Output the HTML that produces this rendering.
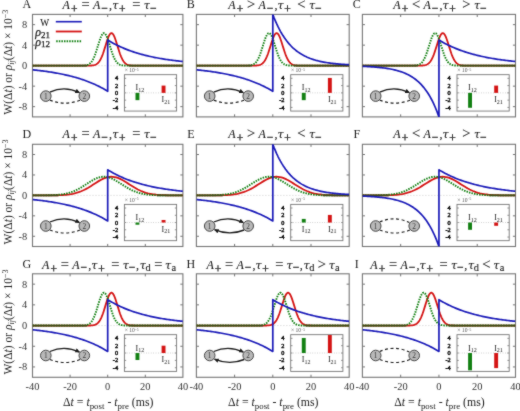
<!DOCTYPE html>
<html><head><meta charset="utf-8"><title>STDP figure</title><style>
html,body{margin:0;padding:0;background:#fff;}
svg{display:block;}
text{font-family:"Liberation Serif",serif;fill:#1a1a1a;}
.tk{font-size:10.4px;fill:#333;}
.ttl{font-size:12px;stroke:#1a1a1a;stroke-width:0.12px;}
.ts{font-size:10.4px;font-style:normal;}
.tau{font-family:'DejaVu Serif',serif;font-style:italic;font-size:11px;}
.ts2{font-size:11.5px;font-style:normal;stroke-width:0.35px;}
.rel{text-anchor:middle;font-size:14.5px;}
.pl{font-size:12px;text-anchor:middle;}
.itk{font-size:6.3px;text-anchor:end;fill:#111;stroke:#111;stroke-width:0.45px;}
.ix{font-size:5.6px;fill:#555;}
.il{font-size:8px;}
.nn{font-size:7.4px;text-anchor:middle;fill:#3a3a3a;}
.xl{font-size:12px;}
.yl{font-size:11.5px;}
.lg{font-size:8.4px;stroke:#1a1a1a;stroke-width:0.25px;}
</style></head>
<body><svg width="520" height="411" viewBox="0 0 520 411">
<defs><marker id="ah" viewBox="0 0 10 10" refX="9" refY="5" markerWidth="5" markerHeight="4.6" markerUnits="userSpaceOnUse" orient="auto"><path d="M0 0L10 5L0 10z" fill="#1a1a1a"/></marker></defs>
<filter id="bl" x="0" y="0" width="1" height="1" color-interpolation-filters="sRGB"><feConvolveMatrix order="3" kernelMatrix="1 2 1 2 20 2 1 2 1" edgeMode="duplicate"/></filter>
<g filter="url(#bl)"><rect width="520" height="411" fill="#fff"/>
<g>
<rect x="32.5" y="14.4" width="150.4" height="102.5" fill="none" stroke="#767676" stroke-width="1.1"/>
<path d="M70.1 116.9v-2.6M70.1 14.4v2.6M107.7 116.9v-2.6M107.7 14.4v2.6M145.3 116.9v-2.6M145.3 14.4v2.6M32.5 106.65h2.6M182.9 106.65h-2.6M32.5 86.15h2.6M182.9 86.15h-2.6M32.5 65.65h2.6M182.9 65.65h-2.6M32.5 45.15h2.6M182.9 45.15h-2.6M32.5 24.65h2.6M182.9 24.65h-2.6" stroke="#767676" stroke-width="1" fill="none"/>
<path d="M32.5 65.65H182.9" stroke="#c4c4c4" stroke-width="0.8" stroke-dasharray="1 2" fill="none"/>
<clipPath id="cp0"><rect x="32.5" y="14.4" width="150.4" height="102.5"/></clipPath>
<g clip-path="url(#cp0)" fill="none" stroke-linejoin="round">
<path d="M32.5 65.65 84.39 65.65 84.99 65.65 85.59 65.65 86.19 65.65 86.79 65.64 87.4 65.64 88 65.63 88.6 65.63 89.2 65.62 89.8 65.6 90.4 65.58 91.01 65.55 91.61 65.51 92.21 65.46 92.81 65.38 93.41 65.29 94.01 65.16 94.62 65 95.22 64.8 95.82 64.54 96.42 64.22 97.02 63.82 97.62 63.34 98.22 62.76 98.83 62.06 99.43 61.25 100.03 60.3 100.63 59.21 101.23 57.98 101.83 56.6 102.44 55.08 103.04 53.44 103.64 51.67 104.24 49.81 104.84 47.88 105.44 45.91 106.05 43.94 106.65 42.02 107.25 40.18 107.85 38.47 108.45 36.93 109.05 35.61 109.66 34.54 110.26 33.75 110.86 33.27 111.46 33.11 112.06 33.27 112.66 33.75 113.26 34.54 113.87 35.61 114.47 36.93 115.07 38.47 115.67 40.18 116.27 42.02 116.87 43.94 117.48 45.91 118.08 47.88 118.68 49.81 119.28 51.67 119.88 53.44 120.48 55.08 121.09 56.6 121.69 57.98 122.29 59.21 122.89 60.3 123.49 61.25 124.09 62.06 124.7 62.76 125.3 63.34 125.9 63.82 126.5 64.22 127.1 64.54 127.7 64.8 128.3 65 128.91 65.16 129.51 65.29 130.11 65.38 130.71 65.46 131.31 65.51 131.91 65.55 132.52 65.58 133.12 65.6 133.72 65.62 134.32 65.63 134.92 65.63 135.52 65.64 136.13 65.64 136.73 65.65 137.33 65.65 137.93 65.65 138.53 65.65 182.9 65.65" stroke="#d41414" stroke-width="1.8"/>
<path d="M32.5 65.65 76.87 65.65 77.47 65.65 78.07 65.65 78.67 65.65 79.27 65.64 79.88 65.64 80.48 65.63 81.08 65.63 81.68 65.62 82.28 65.6 82.88 65.58 83.49 65.55 84.09 65.51 84.69 65.46 85.29 65.38 85.89 65.29 86.49 65.16 87.1 65 87.7 64.8 88.3 64.54 88.9 64.22 89.5 63.82 90.1 63.34 90.7 62.76 91.31 62.06 91.91 61.25 92.51 60.3 93.11 59.21 93.71 57.98 94.31 56.6 94.92 55.08 95.52 53.44 96.12 51.67 96.72 49.81 97.32 47.88 97.92 45.91 98.53 43.94 99.13 42.02 99.73 40.18 100.33 38.47 100.93 36.93 101.53 35.61 102.14 34.54 102.74 33.75 103.34 33.27 103.94 33.11 104.54 33.27 105.14 33.75 105.74 34.54 106.35 35.61 106.95 36.93 107.55 38.47 108.15 40.18 108.75 42.02 109.35 43.94 109.96 45.91 110.56 47.88 111.16 49.81 111.76 51.67 112.36 53.44 112.96 55.08 113.57 56.6 114.17 57.98 114.77 59.21 115.37 60.3 115.97 61.25 116.57 62.06 117.18 62.76 117.78 63.34 118.38 63.82 118.98 64.22 119.58 64.54 120.18 64.8 120.78 65 121.39 65.16 121.99 65.29 122.59 65.38 123.19 65.46 123.79 65.51 124.39 65.55 125 65.58 125.6 65.6 126.2 65.62 126.8 65.63 127.4 65.63 128 65.64 128.61 65.64 129.21 65.65 129.81 65.65 130.41 65.65 131.01 65.65 182.9 65.65" stroke="#138013" stroke-width="1.9" stroke-dasharray="1.5 1.1"/>
<path d="M32.5 65.65H86.99M128.41 65.65H182.9" stroke="#3e4a14" stroke-width="1.8"/>
<path d="M32.5 69.81 33.75 69.94 35.01 70.07 36.26 70.21 37.51 70.35 38.77 70.49 40.02 70.64 41.27 70.79 42.53 70.95 43.78 71.11 45.03 71.28 46.29 71.46 47.54 71.63 48.79 71.82 50.05 72.01 51.3 72.2 52.55 72.4 53.81 72.61 55.06 72.83 56.31 73.05 57.57 73.28 58.82 73.51 60.07 73.75 61.33 74 62.58 74.26 63.83 74.52 65.09 74.8 66.34 75.08 67.59 75.37 68.85 75.67 70.1 75.97 71.35 76.29 72.61 76.62 73.86 76.96 75.11 77.3 76.37 77.66 77.62 78.03 78.87 78.41 80.13 78.81 81.38 79.21 82.63 79.63 83.89 80.06 85.14 80.5 86.39 80.96 87.65 81.43 88.9 81.92 90.15 82.42 91.41 82.93 92.66 83.46 93.91 84.01 95.17 84.58 96.42 85.16 97.67 85.76 98.93 86.38 100.18 87.01 101.43 87.67 102.69 88.35 103.94 89.05 105.19 89.77 106.45 90.51 107.7 91.27 107.7 40.02 108.95 40.79 110.21 41.53 111.46 42.25 112.71 42.95 113.97 43.63 115.22 44.29 116.47 44.92 117.73 45.54 118.98 46.14 120.23 46.72 121.49 47.29 122.74 47.84 123.99 48.37 125.25 48.88 126.5 49.38 127.75 49.87 129.01 50.34 130.26 50.8 131.51 51.24 132.77 51.67 134.02 52.09 135.27 52.49 136.53 52.89 137.78 53.27 139.03 53.64 140.29 54 141.54 54.34 142.79 54.68 144.05 55.01 145.3 55.33 146.55 55.63 147.81 55.93 149.06 56.22 150.31 56.5 151.57 56.78 152.82 57.04 154.07 57.3 155.33 57.55 156.58 57.79 157.83 58.02 159.09 58.25 160.34 58.47 161.59 58.69 162.85 58.9 164.1 59.1 165.35 59.29 166.61 59.48 167.86 59.67 169.11 59.84 170.37 60.02 171.62 60.19 172.87 60.35 174.13 60.51 175.38 60.66 176.63 60.81 177.89 60.95 179.14 61.09 180.39 61.23 181.65 61.36 182.9 61.49" stroke="#1a1ab8" stroke-width="1.7"/>
</g>
<rect x="124.4" y="74.67" width="52.2" height="36.39" fill="#fff" stroke="#767676" stroke-width="0.9"/>
<path d="M124.4 107.42h1.8M176.6 107.42h-1.8M124.4 100.14h1.8M176.6 100.14h-1.8M124.4 92.86h1.8M176.6 92.86h-1.8M124.4 85.59h1.8M176.6 85.59h-1.8M124.4 78.31h1.8M176.6 78.31h-1.8" stroke="#767676" stroke-width="0.8" fill="none"/>
<path d="M124.4 92.86H176.6" stroke="#b0b0b0" stroke-width="0.7" stroke-dasharray="0.8 1.6" fill="none"/>
<text x="118.1" y="109.52" class="itk">-4</text>
<text x="118.1" y="102.24" class="itk">-2</text>
<text x="118.1" y="94.96" class="itk">0</text>
<text x="118.1" y="87.69" class="itk">2</text>
<text x="118.1" y="80.41" class="itk">4</text>
<text x="124.7" y="72.07" class="ix">× 10<tspan dy="-1.3" font-size="3.6">−5</tspan></text>
<rect x="135.5" y="92.86" width="3.9" height="7.28" fill="#138013"/>
<text x="135.5" y="90.36" class="il">I<tspan dy="1.8" font-size="6">12</tspan></text>
<rect x="161.6" y="85.59" width="3.9" height="7.28" fill="#d41414"/>
<text x="161.6" y="101.86" class="il">I<tspan dy="1.8" font-size="6">21</tspan></text>
<path d="M49.8 92.1 Q64.65 85.5 79.5 92.7" stroke="#1a1a1a" stroke-width="1.35" fill="none" marker-end="url(#ah)"/>
<path d="M49.8 100.1 Q65.05 106.1 80.3 100.1" stroke="#1a1a1a" stroke-width="1.15" fill="none" stroke-dasharray="3 2.6"/>
<circle cx="45.8" cy="96.1" r="5.3" fill="#b8b8b8" stroke="#484848" stroke-width="1"/>
<text x="45.8" y="98.6" class="nn">1</text>
<circle cx="84.3" cy="96.1" r="5.3" fill="#b8b8b8" stroke="#484848" stroke-width="1"/>
<text x="84.3" y="98.6" class="nn">2</text>
<text x="26.9" y="8.1" class="pl">A</text>
<text class="ttl"><tspan x="62.5" y="8.8" font-style="italic">A</tspan><tspan x="71" y="12.8" class="ts2">+</tspan><tspan x="85.5" y="8.8" class="rel">=</tspan><tspan x="93" y="8.8" font-style="italic">A</tspan><tspan x="101.3" y="11.6" class="ts2">−</tspan><tspan x="109.1" y="8.8">,</tspan><tspan x="112.2" y="8.8" class="tau">τ</tspan><tspan x="119.1" y="12.8" class="ts2">+</tspan><tspan x="136.3" y="8.8" class="rel">=</tspan><tspan x="143.8" y="8.8" class="tau">τ</tspan><tspan x="149.9" y="11.6" class="ts2">−</tspan></text>
<text x="27.1" y="110.15" class="tk" text-anchor="end">-8</text>
<text x="27.1" y="89.65" class="tk" text-anchor="end">-4</text>
<text x="27.1" y="69.15" class="tk" text-anchor="end">0</text>
<text x="27.1" y="48.65" class="tk" text-anchor="end">4</text>
<text x="27.1" y="28.15" class="tk" text-anchor="end">8</text>
<text transform="translate(12.0 62.15) rotate(-90)" class="yl" text-anchor="middle">W(Δ<tspan font-style="italic">t</tspan>) or <tspan font-style="italic">ρ</tspan><tspan font-size="8" font-style="italic" dy="2">ij</tspan><tspan dy="-2">(Δ</tspan><tspan font-style="italic">t</tspan>) × 10<tspan font-size="8" dy="-4.5">−3</tspan></text>
<text x="49" y="25.6" class="lg" text-anchor="end" style="font-size:9.4px;stroke-width:0.1px">W</text>
<text x="35.2" y="36.2" class="lg"><tspan font-style="italic" font-size="12">ρ</tspan><tspan font-size="9" dy="1.3">21</tspan></text>
<text x="35.2" y="45.8" class="lg"><tspan font-style="italic" font-size="12">ρ</tspan><tspan font-size="9" dy="1.3">12</tspan></text>
<path d="M55.8 21.7H81.8" stroke="#1a1ab8" stroke-width="1.6"/>
<path d="M55.8 31.5H81.8" stroke="#d41414" stroke-width="1.8"/>
<path d="M56.2 41.2H81.8" stroke="#138013" stroke-width="1.9" stroke-dasharray="1.5 1.1"/>
</g>
<g>
<rect x="196.4" y="14.4" width="152.8" height="102.5" fill="none" stroke="#767676" stroke-width="1.1"/>
<path d="M234.6 116.9v-2.6M234.6 14.4v2.6M272.8 116.9v-2.6M272.8 14.4v2.6M311 116.9v-2.6M311 14.4v2.6M196.4 106.65h2.6M349.2 106.65h-2.6M196.4 86.15h2.6M349.2 86.15h-2.6M196.4 65.65h2.6M349.2 65.65h-2.6M196.4 45.15h2.6M349.2 45.15h-2.6M196.4 24.65h2.6M349.2 24.65h-2.6" stroke="#767676" stroke-width="1" fill="none"/>
<path d="M196.4 65.65H349.2" stroke="#c4c4c4" stroke-width="0.8" stroke-dasharray="1 2" fill="none"/>
<clipPath id="cp1"><rect x="196.4" y="14.4" width="152.8" height="102.5"/></clipPath>
<g clip-path="url(#cp1)" fill="none" stroke-linejoin="round">
<path d="M196.4 65.65 249.12 65.65 249.73 65.65 250.34 65.65 250.95 65.65 251.56 65.64 252.17 65.64 252.78 65.63 253.39 65.63 254.01 65.62 254.62 65.6 255.23 65.58 255.84 65.55 256.45 65.51 257.06 65.46 257.67 65.38 258.28 65.29 258.9 65.16 259.51 65 260.12 64.8 260.73 64.54 261.34 64.22 261.95 63.82 262.56 63.34 263.17 62.76 263.78 62.06 264.4 61.25 265.01 60.3 265.62 59.21 266.23 57.98 266.84 56.6 267.45 55.08 268.06 53.44 268.67 51.67 269.29 49.81 269.9 47.88 270.51 45.91 271.12 43.94 271.73 42.02 272.34 40.18 272.95 38.47 273.56 36.93 274.18 35.61 274.79 34.54 275.4 33.75 276.01 33.27 276.62 33.11 277.23 33.27 277.84 33.75 278.45 34.54 279.06 35.61 279.68 36.93 280.29 38.47 280.9 40.18 281.51 42.02 282.12 43.94 282.73 45.91 283.34 47.88 283.95 49.81 284.57 51.67 285.18 53.44 285.79 55.08 286.4 56.6 287.01 57.98 287.62 59.21 288.23 60.3 288.84 61.25 289.46 62.06 290.07 62.76 290.68 63.34 291.29 63.82 291.9 64.22 292.51 64.54 293.12 64.8 293.73 65 294.34 65.16 294.96 65.29 295.57 65.38 296.18 65.46 296.79 65.51 297.4 65.55 298.01 65.58 298.62 65.6 299.23 65.62 299.85 65.63 300.46 65.63 301.07 65.64 301.68 65.64 302.29 65.65 302.9 65.65 303.51 65.65 304.12 65.65 349.2 65.65" stroke="#d41414" stroke-width="1.8"/>
<path d="M196.4 65.65 241.48 65.65 242.09 65.65 242.7 65.65 243.31 65.65 243.92 65.64 244.53 65.64 245.14 65.63 245.75 65.63 246.37 65.62 246.98 65.6 247.59 65.58 248.2 65.55 248.81 65.51 249.42 65.46 250.03 65.38 250.64 65.29 251.26 65.16 251.87 65 252.48 64.8 253.09 64.54 253.7 64.22 254.31 63.82 254.92 63.34 255.53 62.76 256.14 62.06 256.76 61.25 257.37 60.3 257.98 59.21 258.59 57.98 259.2 56.6 259.81 55.08 260.42 53.44 261.03 51.67 261.65 49.81 262.26 47.88 262.87 45.91 263.48 43.94 264.09 42.02 264.7 40.18 265.31 38.47 265.92 36.93 266.54 35.61 267.15 34.54 267.76 33.75 268.37 33.27 268.98 33.11 269.59 33.27 270.2 33.75 270.81 34.54 271.42 35.61 272.04 36.93 272.65 38.47 273.26 40.18 273.87 42.02 274.48 43.94 275.09 45.91 275.7 47.88 276.31 49.81 276.93 51.67 277.54 53.44 278.15 55.08 278.76 56.6 279.37 57.98 279.98 59.21 280.59 60.3 281.2 61.25 281.82 62.06 282.43 62.76 283.04 63.34 283.65 63.82 284.26 64.22 284.87 64.54 285.48 64.8 286.09 65 286.7 65.16 287.32 65.29 287.93 65.38 288.54 65.46 289.15 65.51 289.76 65.55 290.37 65.58 290.98 65.6 291.59 65.62 292.21 65.63 292.82 65.63 293.43 65.64 294.04 65.64 294.65 65.65 295.26 65.65 295.87 65.65 296.48 65.65 349.2 65.65" stroke="#138013" stroke-width="1.9" stroke-dasharray="1.5 1.1"/>
<path d="M196.4 65.65H251.76M293.84 65.65H349.2" stroke="#3e4a14" stroke-width="1.8"/>
<path d="M196.4 69.81 197.67 69.94 198.95 70.07 200.22 70.21 201.49 70.35 202.77 70.49 204.04 70.64 205.31 70.79 206.59 70.95 207.86 71.11 209.13 71.28 210.41 71.46 211.68 71.63 212.95 71.82 214.23 72.01 215.5 72.2 216.77 72.4 218.05 72.61 219.32 72.83 220.59 73.05 221.87 73.28 223.14 73.51 224.41 73.75 225.69 74 226.96 74.26 228.23 74.52 229.51 74.8 230.78 75.08 232.05 75.37 233.33 75.67 234.6 75.97 235.87 76.29 237.15 76.62 238.42 76.96 239.69 77.3 240.97 77.66 242.24 78.03 243.51 78.41 244.79 78.81 246.06 79.21 247.33 79.63 248.61 80.06 249.88 80.5 251.15 80.96 252.43 81.43 253.7 81.92 254.97 82.42 256.25 82.93 257.52 83.46 258.79 84.01 260.07 84.58 261.34 85.16 262.61 85.76 263.89 86.38 265.16 87.01 266.43 87.67 267.71 88.35 268.98 89.05 270.25 89.77 271.53 90.51 272.8 91.27 272.8 14.4 274.07 17.71 275.35 20.8 276.62 23.69 277.89 26.4 279.17 28.93 280.44 31.3 281.71 33.51 282.99 35.58 284.26 37.52 285.53 39.34 286.81 41.03 288.08 42.62 289.35 44.11 290.63 45.5 291.9 46.8 293.17 48.01 294.45 49.15 295.72 50.21 296.99 51.21 298.27 52.14 299.54 53.01 300.81 53.83 302.09 54.59 303.36 55.3 304.63 55.97 305.91 56.59 307.18 57.18 308.45 57.72 309.73 58.24 311 58.71 312.27 59.16 313.55 59.58 314.82 59.97 316.09 60.34 317.37 60.68 318.64 61 319.91 61.3 321.19 61.58 322.46 61.84 323.73 62.09 325.01 62.32 326.28 62.53 327.55 62.73 328.83 62.92 330.1 63.1 331.37 63.26 332.65 63.42 333.92 63.56 335.19 63.7 336.47 63.82 337.74 63.94 339.01 64.05 340.29 64.15 341.56 64.25 342.83 64.34 344.11 64.42 345.38 64.5 346.65 64.58 347.93 64.65 349.2 64.71" stroke="#1a1ab8" stroke-width="1.7"/>
</g>
<rect x="290.7" y="74.67" width="52.2" height="36.39" fill="#fff" stroke="#767676" stroke-width="0.9"/>
<path d="M290.7 107.42h1.8M342.9 107.42h-1.8M290.7 100.14h1.8M342.9 100.14h-1.8M290.7 92.86h1.8M342.9 92.86h-1.8M290.7 85.59h1.8M342.9 85.59h-1.8M290.7 78.31h1.8M342.9 78.31h-1.8" stroke="#767676" stroke-width="0.8" fill="none"/>
<path d="M290.7 92.86H342.9" stroke="#b0b0b0" stroke-width="0.7" stroke-dasharray="0.8 1.6" fill="none"/>
<text x="284.4" y="109.52" class="itk">-4</text>
<text x="284.4" y="102.24" class="itk">-2</text>
<text x="284.4" y="94.96" class="itk">0</text>
<text x="284.4" y="87.69" class="itk">2</text>
<text x="284.4" y="80.41" class="itk">4</text>
<text x="291" y="72.07" class="ix">× 10<tspan dy="-1.3" font-size="3.6">−5</tspan></text>
<rect x="301.8" y="92.86" width="3.9" height="7.28" fill="#138013"/>
<text x="301.8" y="90.36" class="il">I<tspan dy="1.8" font-size="6">12</tspan></text>
<rect x="327.9" y="77.94" width="3.9" height="14.92" fill="#d41414"/>
<text x="327.9" y="101.86" class="il">I<tspan dy="1.8" font-size="6">21</tspan></text>
<path d="M213.7 92.1 Q228.55 85.5 243.4 92.7" stroke="#1a1a1a" stroke-width="1.35" fill="none" marker-end="url(#ah)"/>
<path d="M213.7 100.1 Q228.95 106.1 244.2 100.1" stroke="#1a1a1a" stroke-width="1.15" fill="none" stroke-dasharray="3 2.6"/>
<circle cx="209.7" cy="96.1" r="5.3" fill="#b8b8b8" stroke="#484848" stroke-width="1"/>
<text x="209.7" y="98.6" class="nn">1</text>
<circle cx="248.2" cy="96.1" r="5.3" fill="#b8b8b8" stroke="#484848" stroke-width="1"/>
<text x="248.2" y="98.6" class="nn">2</text>
<text x="190.8" y="8.1" class="pl">B</text>
<text class="ttl"><tspan x="228.2" y="8.8" font-style="italic">A</tspan><tspan x="236.63" y="12.8" class="ts2">+</tspan><tspan x="251.03" y="8.8" class="rel">&gt;</tspan><tspan x="258.47" y="8.8" font-style="italic">A</tspan><tspan x="266.7" y="11.6" class="ts2">−</tspan><tspan x="274.44" y="8.8">,</tspan><tspan x="277.52" y="8.8" class="tau">τ</tspan><tspan x="284.37" y="12.8" class="ts2">+</tspan><tspan x="301.44" y="8.8" class="rel">&lt;</tspan><tspan x="308.88" y="8.8" class="tau">τ</tspan><tspan x="314.93" y="11.6" class="ts2">−</tspan></text>
</g>
<g>
<rect x="362.4" y="14.4" width="153.1" height="102.5" fill="none" stroke="#767676" stroke-width="1.1"/>
<path d="M400.67 116.9v-2.6M400.67 14.4v2.6M438.95 116.9v-2.6M438.95 14.4v2.6M477.23 116.9v-2.6M477.23 14.4v2.6M362.4 106.65h2.6M515.5 106.65h-2.6M362.4 86.15h2.6M515.5 86.15h-2.6M362.4 65.65h2.6M515.5 65.65h-2.6M362.4 45.15h2.6M515.5 45.15h-2.6M362.4 24.65h2.6M515.5 24.65h-2.6" stroke="#767676" stroke-width="1" fill="none"/>
<path d="M362.4 65.65H515.5" stroke="#c4c4c4" stroke-width="0.8" stroke-dasharray="1 2" fill="none"/>
<clipPath id="cp2"><rect x="362.4" y="14.4" width="153.1" height="102.5"/></clipPath>
<g clip-path="url(#cp2)" fill="none" stroke-linejoin="round">
<path d="M362.4 65.65 415.22 65.65 415.83 65.65 416.44 65.65 417.06 65.65 417.67 65.64 418.28 65.64 418.89 65.63 419.51 65.63 420.12 65.62 420.73 65.6 421.34 65.58 421.96 65.55 422.57 65.51 423.18 65.46 423.79 65.38 424.41 65.29 425.02 65.16 425.63 65 426.24 64.8 426.86 64.54 427.47 64.22 428.08 63.82 428.69 63.34 429.3 62.76 429.92 62.06 430.53 61.25 431.14 60.3 431.75 59.21 432.37 57.98 432.98 56.6 433.59 55.08 434.2 53.44 434.82 51.67 435.43 49.81 436.04 47.88 436.65 45.91 437.27 43.94 437.88 42.02 438.49 40.18 439.1 38.47 439.72 36.93 440.33 35.61 440.94 34.54 441.55 33.75 442.17 33.27 442.78 33.11 443.39 33.27 444 33.75 444.61 34.54 445.23 35.61 445.84 36.93 446.45 38.47 447.06 40.18 447.68 42.02 448.29 43.94 448.9 45.91 449.51 47.88 450.13 49.81 450.74 51.67 451.35 53.44 451.96 55.08 452.58 56.6 453.19 57.98 453.8 59.21 454.41 60.3 455.03 61.25 455.64 62.06 456.25 62.76 456.86 63.34 457.48 63.82 458.09 64.22 458.7 64.54 459.31 64.8 459.92 65 460.54 65.16 461.15 65.29 461.76 65.38 462.37 65.46 462.99 65.51 463.6 65.55 464.21 65.58 464.82 65.6 465.44 65.62 466.05 65.63 466.66 65.63 467.27 65.64 467.89 65.64 468.5 65.65 469.11 65.65 469.72 65.65 470.34 65.65 515.5 65.65" stroke="#d41414" stroke-width="1.8"/>
<path d="M362.4 65.65 407.56 65.65 408.18 65.65 408.79 65.65 409.4 65.65 410.01 65.64 410.63 65.64 411.24 65.63 411.85 65.63 412.46 65.62 413.08 65.6 413.69 65.58 414.3 65.55 414.91 65.51 415.53 65.46 416.14 65.38 416.75 65.29 417.36 65.16 417.98 65 418.59 64.8 419.2 64.54 419.81 64.22 420.42 63.82 421.04 63.34 421.65 62.76 422.26 62.06 422.87 61.25 423.49 60.3 424.1 59.21 424.71 57.98 425.32 56.6 425.94 55.08 426.55 53.44 427.16 51.67 427.77 49.81 428.39 47.88 429 45.91 429.61 43.94 430.22 42.02 430.84 40.18 431.45 38.47 432.06 36.93 432.67 35.61 433.29 34.54 433.9 33.75 434.51 33.27 435.12 33.11 435.73 33.27 436.35 33.75 436.96 34.54 437.57 35.61 438.18 36.93 438.8 38.47 439.41 40.18 440.02 42.02 440.63 43.94 441.25 45.91 441.86 47.88 442.47 49.81 443.08 51.67 443.7 53.44 444.31 55.08 444.92 56.6 445.53 57.98 446.15 59.21 446.76 60.3 447.37 61.25 447.98 62.06 448.6 62.76 449.21 63.34 449.82 63.82 450.43 64.22 451.04 64.54 451.66 64.8 452.27 65 452.88 65.16 453.49 65.29 454.11 65.38 454.72 65.46 455.33 65.51 455.94 65.55 456.56 65.58 457.17 65.6 457.78 65.62 458.39 65.63 459.01 65.63 459.62 65.64 460.23 65.64 460.84 65.65 461.46 65.65 462.07 65.65 462.68 65.65 515.5 65.65" stroke="#138013" stroke-width="1.9" stroke-dasharray="1.5 1.1"/>
<path d="M362.4 65.65H417.87M460.03 65.65H515.5" stroke="#3e4a14" stroke-width="1.8"/>
<path d="M362.4 66.34 363.68 66.4 364.95 66.45 366.23 66.51 367.5 66.58 368.78 66.64 370.05 66.72 371.33 66.8 372.61 66.88 373.88 66.97 375.16 67.07 376.43 67.18 377.71 67.29 378.99 67.41 380.26 67.55 381.54 67.69 382.81 67.84 384.09 68 385.37 68.17 386.64 68.36 387.92 68.56 389.19 68.78 390.47 69.01 391.74 69.26 393.02 69.53 394.3 69.82 395.57 70.13 396.85 70.46 398.12 70.82 399.4 71.2 400.67 71.62 401.95 72.06 403.23 72.54 404.5 73.05 405.78 73.6 407.05 74.19 408.33 74.82 409.61 75.5 410.88 76.24 412.16 77.02 413.43 77.87 414.71 78.78 415.99 79.75 417.26 80.8 418.54 81.93 419.81 83.14 421.09 84.44 422.36 85.83 423.64 87.33 424.92 88.94 426.19 90.67 427.47 92.53 428.74 94.53 430.02 96.68 431.29 98.99 432.57 101.46 433.85 104.12 435.12 106.98 436.4 110.05 437.67 113.35 438.95 116.9 438.95 40.02 440.23 40.79 441.5 41.53 442.78 42.25 444.05 42.95 445.33 43.63 446.61 44.29 447.88 44.92 449.16 45.54 450.43 46.14 451.71 46.72 452.98 47.29 454.26 47.84 455.54 48.37 456.81 48.88 458.09 49.38 459.36 49.87 460.64 50.34 461.91 50.8 463.19 51.24 464.47 51.67 465.74 52.09 467.02 52.49 468.29 52.89 469.57 53.27 470.85 53.64 472.12 54 473.4 54.34 474.67 54.68 475.95 55.01 477.23 55.33 478.5 55.63 479.78 55.93 481.05 56.22 482.33 56.5 483.6 56.78 484.88 57.04 486.16 57.3 487.43 57.55 488.71 57.79 489.98 58.02 491.26 58.25 492.53 58.47 493.81 58.69 495.09 58.9 496.36 59.1 497.64 59.29 498.91 59.48 500.19 59.67 501.47 59.84 502.74 60.02 504.02 60.19 505.29 60.35 506.57 60.51 507.85 60.66 509.12 60.81 510.4 60.95 511.67 61.09 512.95 61.23 514.22 61.36 515.5 61.49" stroke="#1a1ab8" stroke-width="1.7"/>
</g>
<rect x="457" y="74.67" width="52.2" height="36.39" fill="#fff" stroke="#767676" stroke-width="0.9"/>
<path d="M457 107.42h1.8M509.2 107.42h-1.8M457 100.14h1.8M509.2 100.14h-1.8M457 92.86h1.8M509.2 92.86h-1.8M457 85.59h1.8M509.2 85.59h-1.8M457 78.31h1.8M509.2 78.31h-1.8" stroke="#767676" stroke-width="0.8" fill="none"/>
<path d="M457 92.86H509.2" stroke="#b0b0b0" stroke-width="0.7" stroke-dasharray="0.8 1.6" fill="none"/>
<text x="450.7" y="109.52" class="itk">-4</text>
<text x="450.7" y="102.24" class="itk">-2</text>
<text x="450.7" y="94.96" class="itk">0</text>
<text x="450.7" y="87.69" class="itk">2</text>
<text x="450.7" y="80.41" class="itk">4</text>
<text x="457.3" y="72.07" class="ix">× 10<tspan dy="-1.3" font-size="3.6">−5</tspan></text>
<rect x="468.1" y="92.86" width="3.9" height="14.92" fill="#138013"/>
<text x="468.1" y="90.36" class="il">I<tspan dy="1.8" font-size="6">12</tspan></text>
<rect x="494.2" y="85.59" width="3.9" height="7.28" fill="#d41414"/>
<text x="494.2" y="101.86" class="il">I<tspan dy="1.8" font-size="6">21</tspan></text>
<path d="M379.7 92.1 Q394.55 85.5 409.4 92.7" stroke="#1a1a1a" stroke-width="1.35" fill="none" marker-end="url(#ah)"/>
<path d="M379.7 100.1 Q394.95 106.1 410.2 100.1" stroke="#1a1a1a" stroke-width="1.15" fill="none" stroke-dasharray="3 2.6"/>
<circle cx="375.7" cy="96.1" r="5.3" fill="#b8b8b8" stroke="#484848" stroke-width="1"/>
<text x="375.7" y="98.6" class="nn">1</text>
<circle cx="414.2" cy="96.1" r="5.3" fill="#b8b8b8" stroke="#484848" stroke-width="1"/>
<text x="414.2" y="98.6" class="nn">2</text>
<text x="356.8" y="8.1" class="pl">C</text>
<text class="ttl"><tspan x="393.2" y="8.8" font-style="italic">A</tspan><tspan x="401.63" y="12.8" class="ts2">+</tspan><tspan x="416.03" y="8.8" class="rel">&lt;</tspan><tspan x="423.47" y="8.8" font-style="italic">A</tspan><tspan x="431.7" y="11.6" class="ts2">−</tspan><tspan x="439.44" y="8.8">,</tspan><tspan x="442.52" y="8.8" class="tau">τ</tspan><tspan x="449.37" y="12.8" class="ts2">+</tspan><tspan x="466.44" y="8.8" class="rel">&gt;</tspan><tspan x="473.88" y="8.8" class="tau">τ</tspan><tspan x="479.93" y="11.6" class="ts2">−</tspan></text>
</g>
<g>
<rect x="32.5" y="144.3" width="150.4" height="102.2" fill="none" stroke="#767676" stroke-width="1.1"/>
<path d="M70.1 246.5v-2.6M70.1 144.3v2.6M107.7 246.5v-2.6M107.7 144.3v2.6M145.3 246.5v-2.6M145.3 144.3v2.6M32.5 236.28h2.6M182.9 236.28h-2.6M32.5 215.84h2.6M182.9 215.84h-2.6M32.5 195.4h2.6M182.9 195.4h-2.6M32.5 174.96h2.6M182.9 174.96h-2.6M32.5 154.52h2.6M182.9 154.52h-2.6" stroke="#767676" stroke-width="1" fill="none"/>
<path d="M32.5 195.4H182.9" stroke="#c4c4c4" stroke-width="0.8" stroke-dasharray="1 2" fill="none"/>
<clipPath id="cp3"><rect x="32.5" y="144.3" width="150.4" height="102.2"/></clipPath>
<g clip-path="url(#cp3)" fill="none" stroke-linejoin="round">
<path d="M32.5 195.4 32.78 195.4 34.45 195.4 36.12 195.4 37.79 195.4 39.45 195.4 41.12 195.39 42.79 195.39 44.46 195.39 46.13 195.38 47.79 195.38 49.46 195.37 51.13 195.35 52.8 195.33 54.47 195.31 56.13 195.28 57.8 195.23 59.47 195.18 61.14 195.1 62.81 195.01 64.47 194.9 66.14 194.75 67.81 194.57 69.48 194.36 71.15 194.09 72.81 193.78 74.48 193.41 76.15 192.97 77.82 192.47 79.49 191.9 81.15 191.25 82.82 190.52 84.49 189.72 86.16 188.85 87.83 187.92 89.49 186.93 91.16 185.89 92.83 184.83 94.5 183.75 96.17 182.68 97.83 181.63 99.5 180.64 101.17 179.71 102.84 178.88 104.51 178.17 106.17 177.58 107.84 177.14 109.51 176.86 111.18 176.75 112.84 176.81 114.51 177.03 116.18 177.42 117.85 177.95 119.52 178.63 121.18 179.42 122.85 180.32 124.52 181.29 126.19 182.32 127.86 183.38 129.52 184.46 131.19 185.53 132.86 186.58 134.53 187.59 136.2 188.54 137.86 189.44 139.53 190.26 141.2 191.01 142.87 191.69 144.54 192.28 146.2 192.81 147.87 193.27 149.54 193.66 151.21 193.99 152.88 194.27 154.54 194.5 156.21 194.7 157.88 194.85 159.55 194.98 161.22 195.07 162.88 195.15 164.55 195.21 166.22 195.26 167.89 195.3 169.56 195.33 171.22 195.35 172.89 195.36 174.56 195.37 176.23 195.38 177.9 195.39 179.56 195.39 181.23 195.39 182.9 195.4" stroke="#d41414" stroke-width="1.8"/>
<path d="M32.5 195.4 34.17 195.39 35.84 195.39 37.5 195.39 39.17 195.38 40.84 195.37 42.51 195.36 44.18 195.35 45.84 195.33 47.51 195.3 49.18 195.26 50.85 195.21 52.52 195.15 54.18 195.07 55.85 194.98 57.52 194.85 59.19 194.7 60.86 194.5 62.52 194.27 64.19 193.99 65.86 193.66 67.53 193.27 69.2 192.81 70.86 192.28 72.53 191.69 74.2 191.01 75.87 190.26 77.54 189.44 79.2 188.54 80.87 187.59 82.54 186.58 84.21 185.53 85.88 184.46 87.54 183.38 89.21 182.32 90.88 181.29 92.55 180.32 94.22 179.42 95.88 178.63 97.55 177.95 99.22 177.42 100.89 177.03 102.56 176.81 104.22 176.75 105.89 176.86 107.56 177.14 109.23 177.58 110.89 178.17 112.56 178.88 114.23 179.71 115.9 180.64 117.57 181.63 119.23 182.68 120.9 183.75 122.57 184.83 124.24 185.89 125.91 186.93 127.57 187.92 129.24 188.85 130.91 189.72 132.58 190.52 134.25 191.25 135.91 191.9 137.58 192.47 139.25 192.97 140.92 193.41 142.59 193.78 144.25 194.09 145.92 194.36 147.59 194.57 149.26 194.75 150.93 194.9 152.59 195.01 154.26 195.1 155.93 195.18 157.6 195.23 159.27 195.28 160.93 195.31 162.6 195.33 164.27 195.35 165.94 195.37 167.61 195.38 169.27 195.38 170.94 195.39 172.61 195.39 174.28 195.39 175.95 195.4 177.61 195.4 179.28 195.4 180.95 195.4 182.62 195.4 182.9 195.4" stroke="#138013" stroke-width="1.9" stroke-dasharray="1.5 1.1"/>
<path d="M32.5 195.4H58.25M157.15 195.4H182.9" stroke="#3e4a14" stroke-width="1.8"/>
<path d="M32.5 199.55 33.75 199.67 35.01 199.81 36.26 199.94 37.51 200.08 38.77 200.23 40.02 200.37 41.27 200.53 42.53 200.69 43.78 200.85 45.03 201.02 46.29 201.19 47.54 201.37 48.79 201.55 50.05 201.74 51.3 201.93 52.55 202.13 53.81 202.34 55.06 202.56 56.31 202.78 57.57 203 58.82 203.24 60.07 203.48 61.33 203.73 62.58 203.98 63.83 204.25 65.09 204.52 66.34 204.8 67.59 205.09 68.85 205.39 70.1 205.69 71.35 206.01 72.61 206.34 73.86 206.67 75.11 207.02 76.37 207.38 77.62 207.75 78.87 208.13 80.13 208.52 81.38 208.92 82.63 209.34 83.89 209.77 85.14 210.21 86.39 210.66 87.65 211.13 88.9 211.62 90.15 212.12 91.41 212.63 92.66 213.16 93.91 213.71 95.17 214.27 96.42 214.85 97.67 215.45 98.93 216.07 100.18 216.7 101.43 217.36 102.69 218.03 103.94 218.73 105.19 219.45 106.45 220.19 107.7 220.95 107.7 169.85 108.95 170.61 110.21 171.35 111.46 172.07 112.71 172.77 113.97 173.44 115.22 174.1 116.47 174.73 117.73 175.35 118.98 175.95 120.23 176.53 121.49 177.09 122.74 177.64 123.99 178.17 125.25 178.68 126.5 179.18 127.75 179.67 129.01 180.14 130.26 180.59 131.51 181.03 132.77 181.46 134.02 181.88 135.27 182.28 136.53 182.67 137.78 183.05 139.03 183.42 140.29 183.78 141.54 184.13 142.79 184.46 144.05 184.79 145.3 185.11 146.55 185.41 147.81 185.71 149.06 186 150.31 186.28 151.57 186.55 152.82 186.82 154.07 187.07 155.33 187.32 156.58 187.56 157.83 187.8 159.09 188.02 160.34 188.24 161.59 188.46 162.85 188.67 164.1 188.87 165.35 189.06 166.61 189.25 167.86 189.43 169.11 189.61 170.37 189.78 171.62 189.95 172.87 190.11 174.13 190.27 175.38 190.43 176.63 190.57 177.89 190.72 179.14 190.86 180.39 190.99 181.65 191.13 182.9 191.25" stroke="#1a1ab8" stroke-width="1.7"/>
</g>
<rect x="124.4" y="204.39" width="52.2" height="36.28" fill="#fff" stroke="#767676" stroke-width="0.9"/>
<path d="M124.4 237.05h1.8M176.6 237.05h-1.8M124.4 229.79h1.8M176.6 229.79h-1.8M124.4 222.53h1.8M176.6 222.53h-1.8M124.4 215.28h1.8M176.6 215.28h-1.8M124.4 208.02h1.8M176.6 208.02h-1.8" stroke="#767676" stroke-width="0.8" fill="none"/>
<path d="M124.4 222.53H176.6" stroke="#b0b0b0" stroke-width="0.7" stroke-dasharray="0.8 1.6" fill="none"/>
<text x="118.1" y="239.15" class="itk">-4</text>
<text x="118.1" y="231.89" class="itk">-2</text>
<text x="118.1" y="224.63" class="itk">0</text>
<text x="118.1" y="217.38" class="itk">2</text>
<text x="118.1" y="210.12" class="itk">4</text>
<text x="124.7" y="201.79" class="ix">× 10<tspan dy="-1.3" font-size="3.6">−5</tspan></text>
<rect x="135.5" y="222.53" width="3.9" height="2.18" fill="#138013"/>
<text x="135.5" y="220.03" class="il">I<tspan dy="1.8" font-size="6">12</tspan></text>
<rect x="161.6" y="219.99" width="3.9" height="2.54" fill="#d41414"/>
<text x="161.6" y="231.53" class="il">I<tspan dy="1.8" font-size="6">21</tspan></text>
<path d="M49.8 222 Q64.65 215.4 79.5 222.6" stroke="#1a1a1a" stroke-width="1.35" fill="none" marker-end="url(#ah)"/>
<path d="M49.8 230 Q65.05 236 80.3 230" stroke="#1a1a1a" stroke-width="1.15" fill="none" stroke-dasharray="3 2.6"/>
<circle cx="45.8" cy="226" r="5.3" fill="#b8b8b8" stroke="#484848" stroke-width="1"/>
<text x="45.8" y="228.5" class="nn">1</text>
<circle cx="84.3" cy="226" r="5.3" fill="#b8b8b8" stroke="#484848" stroke-width="1"/>
<text x="84.3" y="228.5" class="nn">2</text>
<text x="26.9" y="138" class="pl">D</text>
<text class="ttl"><tspan x="62.5" y="138.1" font-style="italic">A</tspan><tspan x="71" y="142.1" class="ts2">+</tspan><tspan x="85.5" y="138.1" class="rel">=</tspan><tspan x="93" y="138.1" font-style="italic">A</tspan><tspan x="101.3" y="140.9" class="ts2">−</tspan><tspan x="109.1" y="138.1">,</tspan><tspan x="112.2" y="138.1" class="tau">τ</tspan><tspan x="119.1" y="142.1" class="ts2">+</tspan><tspan x="136.3" y="138.1" class="rel">=</tspan><tspan x="143.8" y="138.1" class="tau">τ</tspan><tspan x="149.9" y="140.9" class="ts2">−</tspan></text>
<text x="27.1" y="239.78" class="tk" text-anchor="end">-8</text>
<text x="27.1" y="219.34" class="tk" text-anchor="end">-4</text>
<text x="27.1" y="198.9" class="tk" text-anchor="end">0</text>
<text x="27.1" y="178.46" class="tk" text-anchor="end">4</text>
<text x="27.1" y="158.02" class="tk" text-anchor="end">8</text>
<text transform="translate(12.0 191.9) rotate(-90)" class="yl" text-anchor="middle">W(Δ<tspan font-style="italic">t</tspan>) or <tspan font-style="italic">ρ</tspan><tspan font-size="8" font-style="italic" dy="2">ij</tspan><tspan dy="-2">(Δ</tspan><tspan font-style="italic">t</tspan>) × 10<tspan font-size="8" dy="-4.5">−3</tspan></text>
</g>
<g>
<rect x="196.4" y="144.3" width="152.8" height="102.2" fill="none" stroke="#767676" stroke-width="1.1"/>
<path d="M234.6 246.5v-2.6M234.6 144.3v2.6M272.8 246.5v-2.6M272.8 144.3v2.6M311 246.5v-2.6M311 144.3v2.6M196.4 236.28h2.6M349.2 236.28h-2.6M196.4 215.84h2.6M349.2 215.84h-2.6M196.4 195.4h2.6M349.2 195.4h-2.6M196.4 174.96h2.6M349.2 174.96h-2.6M196.4 154.52h2.6M349.2 154.52h-2.6" stroke="#767676" stroke-width="1" fill="none"/>
<path d="M196.4 195.4H349.2" stroke="#c4c4c4" stroke-width="0.8" stroke-dasharray="1 2" fill="none"/>
<clipPath id="cp4"><rect x="196.4" y="144.3" width="152.8" height="102.2"/></clipPath>
<g clip-path="url(#cp4)" fill="none" stroke-linejoin="round">
<path d="M196.4 195.4 196.69 195.4 198.38 195.4 200.08 195.4 201.77 195.4 203.46 195.4 205.16 195.39 206.85 195.39 208.55 195.39 210.24 195.38 211.94 195.38 213.63 195.37 215.33 195.35 217.02 195.33 218.72 195.31 220.41 195.28 222.11 195.23 223.8 195.18 225.49 195.1 227.19 195.01 228.88 194.9 230.58 194.75 232.27 194.57 233.97 194.36 235.66 194.09 237.36 193.78 239.05 193.41 240.75 192.97 242.44 192.47 244.14 191.9 245.83 191.25 247.52 190.52 249.22 189.72 250.91 188.85 252.61 187.92 254.3 186.93 256 185.89 257.69 184.83 259.39 183.75 261.08 182.68 262.78 181.63 264.47 180.64 266.16 179.71 267.86 178.88 269.55 178.17 271.25 177.58 272.94 177.14 274.64 176.86 276.33 176.75 278.03 176.81 279.72 177.03 281.42 177.42 283.11 177.95 284.81 178.63 286.5 179.42 288.19 180.32 289.89 181.29 291.58 182.32 293.28 183.38 294.97 184.46 296.67 185.53 298.36 186.58 300.06 187.59 301.75 188.54 303.45 189.44 305.14 190.26 306.84 191.01 308.53 191.69 310.22 192.28 311.92 192.81 313.61 193.27 315.31 193.66 317 193.99 318.7 194.27 320.39 194.5 322.09 194.7 323.78 194.85 325.48 194.98 327.17 195.07 328.86 195.15 330.56 195.21 332.25 195.26 333.95 195.3 335.64 195.33 337.34 195.35 339.03 195.36 340.73 195.37 342.42 195.38 344.12 195.39 345.81 195.39 347.51 195.39 349.2 195.4" stroke="#d41414" stroke-width="1.8"/>
<path d="M196.4 195.4 198.09 195.39 199.79 195.39 201.48 195.39 203.18 195.38 204.87 195.37 206.57 195.36 208.26 195.35 209.96 195.33 211.65 195.3 213.35 195.26 215.04 195.21 216.74 195.15 218.43 195.07 220.12 194.98 221.82 194.85 223.51 194.7 225.21 194.5 226.9 194.27 228.6 193.99 230.29 193.66 231.99 193.27 233.68 192.81 235.38 192.28 237.07 191.69 238.76 191.01 240.46 190.26 242.15 189.44 243.85 188.54 245.54 187.59 247.24 186.58 248.93 185.53 250.63 184.46 252.32 183.38 254.02 182.32 255.71 181.29 257.41 180.32 259.1 179.42 260.79 178.63 262.49 177.95 264.18 177.42 265.88 177.03 267.57 176.81 269.27 176.75 270.96 176.86 272.66 177.14 274.35 177.58 276.05 178.17 277.74 178.88 279.44 179.71 281.13 180.64 282.82 181.63 284.52 182.68 286.21 183.75 287.91 184.83 289.6 185.89 291.3 186.93 292.99 187.92 294.69 188.85 296.38 189.72 298.08 190.52 299.77 191.25 301.46 191.9 303.16 192.47 304.85 192.97 306.55 193.41 308.24 193.78 309.94 194.09 311.63 194.36 313.33 194.57 315.02 194.75 316.72 194.9 318.41 195.01 320.11 195.1 321.8 195.18 323.49 195.23 325.19 195.28 326.88 195.31 328.58 195.33 330.27 195.35 331.97 195.37 333.66 195.38 335.36 195.38 337.05 195.39 338.75 195.39 340.44 195.39 342.14 195.4 343.83 195.4 345.52 195.4 347.22 195.4 348.91 195.4 349.2 195.4" stroke="#138013" stroke-width="1.9" stroke-dasharray="1.5 1.1"/>
<path d="M196.4 195.4H222.56M323.04 195.4H349.2" stroke="#3e4a14" stroke-width="1.8"/>
<path d="M196.4 199.55 197.67 199.67 198.95 199.81 200.22 199.94 201.49 200.08 202.77 200.23 204.04 200.37 205.31 200.53 206.59 200.69 207.86 200.85 209.13 201.02 210.41 201.19 211.68 201.37 212.95 201.55 214.23 201.74 215.5 201.93 216.77 202.13 218.05 202.34 219.32 202.56 220.59 202.78 221.87 203 223.14 203.24 224.41 203.48 225.69 203.73 226.96 203.98 228.23 204.25 229.51 204.52 230.78 204.8 232.05 205.09 233.33 205.39 234.6 205.69 235.87 206.01 237.15 206.34 238.42 206.67 239.69 207.02 240.97 207.38 242.24 207.75 243.51 208.13 244.79 208.52 246.06 208.92 247.33 209.34 248.61 209.77 249.88 210.21 251.15 210.66 252.43 211.13 253.7 211.62 254.97 212.12 256.25 212.63 257.52 213.16 258.79 213.71 260.07 214.27 261.34 214.85 262.61 215.45 263.89 216.07 265.16 216.7 266.43 217.36 267.71 218.03 268.98 218.73 270.25 219.45 271.53 220.19 272.8 220.95 272.8 144.3 274.07 147.6 275.35 150.68 276.62 153.56 277.89 156.26 279.17 158.79 280.44 161.15 281.71 163.36 282.99 165.42 284.26 167.36 285.53 169.16 286.81 170.86 288.08 172.44 289.35 173.92 290.63 175.31 291.9 176.6 293.17 177.81 294.45 178.95 295.72 180.01 296.99 181 298.27 181.93 299.54 182.8 300.81 183.61 302.09 184.37 303.36 185.08 304.63 185.75 305.91 186.37 307.18 186.95 308.45 187.5 309.73 188.01 311 188.48 312.27 188.93 313.55 189.35 314.82 189.74 316.09 190.1 317.37 190.44 318.64 190.76 319.91 191.06 321.19 191.34 322.46 191.6 323.73 191.85 325.01 192.08 326.28 192.29 327.55 192.49 328.83 192.68 330.1 192.86 331.37 193.02 332.65 193.17 333.92 193.32 335.19 193.45 336.47 193.58 337.74 193.69 339.01 193.8 340.29 193.91 341.56 194 342.83 194.09 344.11 194.18 345.38 194.26 346.65 194.33 347.93 194.4 349.2 194.46" stroke="#1a1ab8" stroke-width="1.7"/>
</g>
<rect x="290.7" y="204.39" width="52.2" height="36.28" fill="#fff" stroke="#767676" stroke-width="0.9"/>
<path d="M290.7 237.05h1.8M342.9 237.05h-1.8M290.7 229.79h1.8M342.9 229.79h-1.8M290.7 222.53h1.8M342.9 222.53h-1.8M290.7 215.28h1.8M342.9 215.28h-1.8M290.7 208.02h1.8M342.9 208.02h-1.8" stroke="#767676" stroke-width="0.8" fill="none"/>
<path d="M290.7 222.53H342.9" stroke="#b0b0b0" stroke-width="0.7" stroke-dasharray="0.8 1.6" fill="none"/>
<text x="284.4" y="239.15" class="itk">-4</text>
<text x="284.4" y="231.89" class="itk">-2</text>
<text x="284.4" y="224.63" class="itk">0</text>
<text x="284.4" y="217.38" class="itk">2</text>
<text x="284.4" y="210.12" class="itk">4</text>
<text x="291" y="201.79" class="ix">× 10<tspan dy="-1.3" font-size="3.6">−5</tspan></text>
<rect x="301.8" y="218.91" width="3.9" height="3.63" fill="#138013"/>
<text x="301.8" y="231.53" class="il">I<tspan dy="1.8" font-size="6">12</tspan></text>
<rect x="327.9" y="214.92" width="3.9" height="7.62" fill="#d41414"/>
<text x="327.9" y="231.53" class="il">I<tspan dy="1.8" font-size="6">21</tspan></text>
<path d="M213.7 222 Q228.55 215.4 243.4 222.6" stroke="#1a1a1a" stroke-width="1.35" fill="none" marker-end="url(#ah)"/>
<path d="M244.2 230 Q229.35 236 214.5 229.6" stroke="#1a1a1a" stroke-width="1.35" fill="none" marker-end="url(#ah)"/>
<circle cx="209.7" cy="226" r="5.3" fill="#b8b8b8" stroke="#484848" stroke-width="1"/>
<text x="209.7" y="228.5" class="nn">1</text>
<circle cx="248.2" cy="226" r="5.3" fill="#b8b8b8" stroke="#484848" stroke-width="1"/>
<text x="248.2" y="228.5" class="nn">2</text>
<text x="190.8" y="138" class="pl">E</text>
<text class="ttl"><tspan x="228.2" y="138.1" font-style="italic">A</tspan><tspan x="236.63" y="142.1" class="ts2">+</tspan><tspan x="251.03" y="138.1" class="rel">&gt;</tspan><tspan x="258.47" y="138.1" font-style="italic">A</tspan><tspan x="266.7" y="140.9" class="ts2">−</tspan><tspan x="274.44" y="138.1">,</tspan><tspan x="277.52" y="138.1" class="tau">τ</tspan><tspan x="284.37" y="142.1" class="ts2">+</tspan><tspan x="301.44" y="138.1" class="rel">&lt;</tspan><tspan x="308.88" y="138.1" class="tau">τ</tspan><tspan x="314.93" y="140.9" class="ts2">−</tspan></text>
</g>
<g>
<rect x="362.4" y="144.3" width="153.1" height="102.2" fill="none" stroke="#767676" stroke-width="1.1"/>
<path d="M400.67 246.5v-2.6M400.67 144.3v2.6M438.95 246.5v-2.6M438.95 144.3v2.6M477.23 246.5v-2.6M477.23 144.3v2.6M362.4 236.28h2.6M515.5 236.28h-2.6M362.4 215.84h2.6M515.5 215.84h-2.6M362.4 195.4h2.6M515.5 195.4h-2.6M362.4 174.96h2.6M515.5 174.96h-2.6M362.4 154.52h2.6M515.5 154.52h-2.6" stroke="#767676" stroke-width="1" fill="none"/>
<path d="M362.4 195.4H515.5" stroke="#c4c4c4" stroke-width="0.8" stroke-dasharray="1 2" fill="none"/>
<clipPath id="cp5"><rect x="362.4" y="144.3" width="153.1" height="102.2"/></clipPath>
<g clip-path="url(#cp5)" fill="none" stroke-linejoin="round">
<path d="M362.4 195.4 362.69 195.4 364.38 195.4 366.08 195.4 367.78 195.4 369.48 195.4 371.18 195.39 372.87 195.39 374.57 195.39 376.27 195.38 377.97 195.38 379.67 195.37 381.36 195.35 383.06 195.33 384.76 195.31 386.46 195.28 388.16 195.23 389.85 195.18 391.55 195.1 393.25 195.01 394.95 194.9 396.65 194.75 398.34 194.57 400.04 194.36 401.74 194.09 403.44 193.78 405.14 193.41 406.83 192.97 408.53 192.47 410.23 191.9 411.93 191.25 413.62 190.52 415.32 189.72 417.02 188.85 418.72 187.92 420.42 186.93 422.11 185.89 423.81 184.83 425.51 183.75 427.21 182.68 428.91 181.63 430.6 180.64 432.3 179.71 434 178.88 435.7 178.17 437.4 177.58 439.09 177.14 440.79 176.86 442.49 176.75 444.19 176.81 445.89 177.03 447.58 177.42 449.28 177.95 450.98 178.63 452.68 179.42 454.37 180.32 456.07 181.29 457.77 182.32 459.47 183.38 461.17 184.46 462.86 185.53 464.56 186.58 466.26 187.59 467.96 188.54 469.66 189.44 471.35 190.26 473.05 191.01 474.75 191.69 476.45 192.28 478.15 192.81 479.84 193.27 481.54 193.66 483.24 193.99 484.94 194.27 486.64 194.5 488.33 194.7 490.03 194.85 491.73 194.98 493.43 195.07 495.12 195.15 496.82 195.21 498.52 195.26 500.22 195.3 501.92 195.33 503.61 195.35 505.31 195.36 507.01 195.37 508.71 195.38 510.41 195.39 512.1 195.39 513.8 195.39 515.5 195.4" stroke="#d41414" stroke-width="1.8"/>
<path d="M362.4 195.4 364.1 195.39 365.8 195.39 367.49 195.39 369.19 195.38 370.89 195.37 372.59 195.36 374.29 195.35 375.98 195.33 377.68 195.3 379.38 195.26 381.08 195.21 382.78 195.15 384.47 195.07 386.17 194.98 387.87 194.85 389.57 194.7 391.26 194.5 392.96 194.27 394.66 193.99 396.36 193.66 398.06 193.27 399.75 192.81 401.45 192.28 403.15 191.69 404.85 191.01 406.55 190.26 408.24 189.44 409.94 188.54 411.64 187.59 413.34 186.58 415.04 185.53 416.73 184.46 418.43 183.38 420.13 182.32 421.83 181.29 423.53 180.32 425.22 179.42 426.92 178.63 428.62 177.95 430.32 177.42 432.01 177.03 433.71 176.81 435.41 176.75 437.11 176.86 438.81 177.14 440.5 177.58 442.2 178.17 443.9 178.88 445.6 179.71 447.3 180.64 448.99 181.63 450.69 182.68 452.39 183.75 454.09 184.83 455.79 185.89 457.48 186.93 459.18 187.92 460.88 188.85 462.58 189.72 464.28 190.52 465.97 191.25 467.67 191.9 469.37 192.47 471.07 192.97 472.76 193.41 474.46 193.78 476.16 194.09 477.86 194.36 479.56 194.57 481.25 194.75 482.95 194.9 484.65 195.01 486.35 195.1 488.05 195.18 489.74 195.23 491.44 195.28 493.14 195.31 494.84 195.33 496.54 195.35 498.23 195.37 499.93 195.38 501.63 195.38 503.33 195.39 505.03 195.39 506.72 195.39 508.42 195.4 510.12 195.4 511.82 195.4 513.52 195.4 515.21 195.4 515.5 195.4" stroke="#138013" stroke-width="1.9" stroke-dasharray="1.5 1.1"/>
<path d="M362.4 195.4H388.61M489.29 195.4H515.5" stroke="#3e4a14" stroke-width="1.8"/>
<path d="M362.4 196.09 363.68 196.14 364.95 196.2 366.23 196.26 367.5 196.32 368.78 196.39 370.05 196.46 371.33 196.54 372.61 196.63 373.88 196.72 375.16 196.82 376.43 196.92 377.71 197.04 378.99 197.16 380.26 197.29 381.54 197.43 382.81 197.58 384.09 197.74 385.37 197.92 386.64 198.1 387.92 198.3 389.19 198.52 390.47 198.75 391.74 199 393.02 199.27 394.3 199.56 395.57 199.87 396.85 200.2 398.12 200.55 399.4 200.94 400.67 201.35 401.95 201.79 403.23 202.27 404.5 202.78 405.78 203.32 407.05 203.91 408.33 204.55 409.61 205.23 410.88 205.96 412.16 206.74 413.43 207.58 414.71 208.49 415.99 209.46 417.26 210.51 418.54 211.63 419.81 212.84 421.09 214.13 422.36 215.52 423.64 217.02 424.92 218.63 426.19 220.35 427.47 222.21 428.74 224.2 430.02 226.34 431.29 228.64 432.57 231.11 433.85 233.76 435.12 236.61 436.4 239.67 437.67 242.97 438.95 246.5 438.95 169.85 440.23 170.61 441.5 171.35 442.78 172.07 444.05 172.77 445.33 173.44 446.61 174.1 447.88 174.73 449.16 175.35 450.43 175.95 451.71 176.53 452.98 177.09 454.26 177.64 455.54 178.17 456.81 178.68 458.09 179.18 459.36 179.67 460.64 180.14 461.91 180.59 463.19 181.03 464.47 181.46 465.74 181.88 467.02 182.28 468.29 182.67 469.57 183.05 470.85 183.42 472.12 183.78 473.4 184.13 474.67 184.46 475.95 184.79 477.23 185.11 478.5 185.41 479.78 185.71 481.05 186 482.33 186.28 483.6 186.55 484.88 186.82 486.16 187.07 487.43 187.32 488.71 187.56 489.98 187.8 491.26 188.02 492.53 188.24 493.81 188.46 495.09 188.67 496.36 188.87 497.64 189.06 498.91 189.25 500.19 189.43 501.47 189.61 502.74 189.78 504.02 189.95 505.29 190.11 506.57 190.27 507.85 190.43 509.12 190.57 510.4 190.72 511.67 190.86 512.95 190.99 514.22 191.13 515.5 191.25" stroke="#1a1ab8" stroke-width="1.7"/>
</g>
<rect x="457" y="204.39" width="52.2" height="36.28" fill="#fff" stroke="#767676" stroke-width="0.9"/>
<path d="M457 237.05h1.8M509.2 237.05h-1.8M457 229.79h1.8M509.2 229.79h-1.8M457 222.53h1.8M509.2 222.53h-1.8M457 215.28h1.8M509.2 215.28h-1.8M457 208.02h1.8M509.2 208.02h-1.8" stroke="#767676" stroke-width="0.8" fill="none"/>
<path d="M457 222.53H509.2" stroke="#b0b0b0" stroke-width="0.7" stroke-dasharray="0.8 1.6" fill="none"/>
<text x="450.7" y="239.15" class="itk">-4</text>
<text x="450.7" y="231.89" class="itk">-2</text>
<text x="450.7" y="224.63" class="itk">0</text>
<text x="450.7" y="217.38" class="itk">2</text>
<text x="450.7" y="210.12" class="itk">4</text>
<text x="457.3" y="201.79" class="ix">× 10<tspan dy="-1.3" font-size="3.6">−5</tspan></text>
<rect x="468.1" y="222.53" width="3.9" height="7.26" fill="#138013"/>
<text x="468.1" y="220.03" class="il">I<tspan dy="1.8" font-size="6">12</tspan></text>
<rect x="494.2" y="222.53" width="3.9" height="3.27" fill="#d41414"/>
<text x="494.2" y="220.03" class="il">I<tspan dy="1.8" font-size="6">21</tspan></text>
<path d="M379.7 222 Q394.55 215.4 409.4 222.6" stroke="#1a1a1a" stroke-width="1.15" fill="none" stroke-dasharray="3 2.6"/>
<path d="M379.7 230 Q394.95 236 410.2 230" stroke="#1a1a1a" stroke-width="1.15" fill="none" stroke-dasharray="3 2.6"/>
<circle cx="375.7" cy="226" r="5.3" fill="#b8b8b8" stroke="#484848" stroke-width="1"/>
<text x="375.7" y="228.5" class="nn">1</text>
<circle cx="414.2" cy="226" r="5.3" fill="#b8b8b8" stroke="#484848" stroke-width="1"/>
<text x="414.2" y="228.5" class="nn">2</text>
<text x="356.8" y="138" class="pl">F</text>
<text class="ttl"><tspan x="393.2" y="138.1" font-style="italic">A</tspan><tspan x="401.63" y="142.1" class="ts2">+</tspan><tspan x="416.03" y="138.1" class="rel">&lt;</tspan><tspan x="423.47" y="138.1" font-style="italic">A</tspan><tspan x="431.7" y="140.9" class="ts2">−</tspan><tspan x="439.44" y="138.1">,</tspan><tspan x="442.52" y="138.1" class="tau">τ</tspan><tspan x="449.37" y="142.1" class="ts2">+</tspan><tspan x="466.44" y="138.1" class="rel">&gt;</tspan><tspan x="473.88" y="138.1" class="tau">τ</tspan><tspan x="479.93" y="140.9" class="ts2">−</tspan></text>
</g>
<g>
<rect x="32.5" y="273.8" width="150.4" height="103.5" fill="none" stroke="#767676" stroke-width="1.1"/>
<path d="M70.1 377.3v-2.6M70.1 273.8v2.6M107.7 377.3v-2.6M107.7 273.8v2.6M145.3 377.3v-2.6M145.3 273.8v2.6M32.5 366.95h2.6M182.9 366.95h-2.6M32.5 346.25h2.6M182.9 346.25h-2.6M32.5 325.55h2.6M182.9 325.55h-2.6M32.5 304.85h2.6M182.9 304.85h-2.6M32.5 284.15h2.6M182.9 284.15h-2.6" stroke="#767676" stroke-width="1" fill="none"/>
<path d="M32.5 325.55H182.9" stroke="#c4c4c4" stroke-width="0.8" stroke-dasharray="1 2" fill="none"/>
<clipPath id="cp6"><rect x="32.5" y="273.8" width="150.4" height="103.5"/></clipPath>
<g clip-path="url(#cp6)" fill="none" stroke-linejoin="round">
<path d="M32.5 325.55 84.39 325.55 84.99 325.55 85.59 325.55 86.19 325.55 86.79 325.54 87.4 325.54 88 325.53 88.6 325.53 89.2 325.52 89.8 325.5 90.4 325.48 91.01 325.45 91.61 325.41 92.21 325.35 92.81 325.28 93.41 325.18 94.01 325.06 94.62 324.9 95.22 324.69 95.82 324.43 96.42 324.11 97.02 323.71 97.62 323.22 98.22 322.63 98.83 321.93 99.43 321.1 100.03 320.15 100.63 319.05 101.23 317.8 101.83 316.41 102.44 314.88 103.04 313.22 103.64 311.43 104.24 309.55 104.84 307.61 105.44 305.62 106.05 303.63 106.65 301.69 107.25 299.83 107.85 298.1 108.45 296.55 109.05 295.22 109.66 294.13 110.26 293.34 110.86 292.85 111.46 292.69 112.06 292.85 112.66 293.34 113.26 294.13 113.87 295.22 114.47 296.55 115.07 298.1 115.67 299.83 116.27 301.69 116.87 303.63 117.48 305.62 118.08 307.61 118.68 309.55 119.28 311.43 119.88 313.22 120.48 314.88 121.09 316.41 121.69 317.8 122.29 319.05 122.89 320.15 123.49 321.1 124.09 321.93 124.7 322.63 125.3 323.22 125.9 323.71 126.5 324.11 127.1 324.43 127.7 324.69 128.3 324.9 128.91 325.06 129.51 325.18 130.11 325.28 130.71 325.35 131.31 325.41 131.91 325.45 132.52 325.48 133.12 325.5 133.72 325.52 134.32 325.53 134.92 325.53 135.52 325.54 136.13 325.54 136.73 325.55 137.33 325.55 137.93 325.55 138.53 325.55 182.9 325.55" stroke="#d41414" stroke-width="1.8"/>
<path d="M32.5 325.55 76.87 325.55 77.47 325.55 78.07 325.55 78.67 325.55 79.27 325.54 79.88 325.54 80.48 325.53 81.08 325.53 81.68 325.52 82.28 325.5 82.88 325.48 83.49 325.45 84.09 325.41 84.69 325.35 85.29 325.28 85.89 325.18 86.49 325.06 87.1 324.9 87.7 324.69 88.3 324.43 88.9 324.11 89.5 323.71 90.1 323.22 90.7 322.63 91.31 321.93 91.91 321.1 92.51 320.15 93.11 319.05 93.71 317.8 94.31 316.41 94.92 314.88 95.52 313.22 96.12 311.43 96.72 309.55 97.32 307.61 97.92 305.62 98.53 303.63 99.13 301.69 99.73 299.83 100.33 298.1 100.93 296.55 101.53 295.22 102.14 294.13 102.74 293.34 103.34 292.85 103.94 292.69 104.54 292.85 105.14 293.34 105.74 294.13 106.35 295.22 106.95 296.55 107.55 298.1 108.15 299.83 108.75 301.69 109.35 303.63 109.96 305.62 110.56 307.61 111.16 309.55 111.76 311.43 112.36 313.22 112.96 314.88 113.57 316.41 114.17 317.8 114.77 319.05 115.37 320.15 115.97 321.1 116.57 321.93 117.18 322.63 117.78 323.22 118.38 323.71 118.98 324.11 119.58 324.43 120.18 324.69 120.78 324.9 121.39 325.06 121.99 325.18 122.59 325.28 123.19 325.35 123.79 325.41 124.39 325.45 125 325.48 125.6 325.5 126.2 325.52 126.8 325.53 127.4 325.53 128 325.54 128.61 325.54 129.21 325.55 129.81 325.55 130.41 325.55 131.01 325.55 182.9 325.55" stroke="#138013" stroke-width="1.9" stroke-dasharray="1.5 1.1"/>
<path d="M32.5 325.55H86.99M128.41 325.55H182.9" stroke="#3e4a14" stroke-width="1.8"/>
<path d="M32.5 329.75 33.75 329.88 35.01 330.01 36.26 330.15 37.51 330.29 38.77 330.44 40.02 330.59 41.27 330.74 42.53 330.9 43.78 331.07 45.03 331.24 46.29 331.41 47.54 331.59 48.79 331.78 50.05 331.97 51.3 332.17 52.55 332.37 53.81 332.58 55.06 332.8 56.31 333.02 57.57 333.25 58.82 333.49 60.07 333.73 61.33 333.98 62.58 334.24 63.83 334.51 65.09 334.78 66.34 335.07 67.59 335.36 68.85 335.66 70.1 335.97 71.35 336.3 72.61 336.63 73.86 336.97 75.11 337.32 76.37 337.68 77.62 338.05 78.87 338.44 80.13 338.83 81.38 339.24 82.63 339.66 83.89 340.1 85.14 340.55 86.39 341.01 87.65 341.48 88.9 341.97 90.15 342.48 91.41 343 92.66 343.54 93.91 344.09 95.17 344.66 96.42 345.25 97.67 345.85 98.93 346.48 100.18 347.12 101.43 347.79 102.69 348.47 103.94 349.18 105.19 349.9 106.45 350.65 107.7 351.42 107.7 299.68 108.95 300.45 110.21 301.2 111.46 301.92 112.71 302.63 113.97 303.31 115.22 303.98 116.47 304.62 117.73 305.25 118.98 305.85 120.23 306.44 121.49 307.01 122.74 307.56 123.99 308.1 125.25 308.62 126.5 309.13 127.75 309.62 129.01 310.09 130.26 310.55 131.51 311 132.77 311.44 134.02 311.86 135.27 312.27 136.53 312.66 137.78 313.05 139.03 313.42 140.29 313.78 141.54 314.13 142.79 314.47 144.05 314.8 145.3 315.13 146.55 315.44 147.81 315.74 149.06 316.03 150.31 316.32 151.57 316.59 152.82 316.86 154.07 317.12 155.33 317.37 156.58 317.61 157.83 317.85 159.09 318.08 160.34 318.3 161.59 318.52 162.85 318.73 164.1 318.93 165.35 319.13 166.61 319.32 167.86 319.51 169.11 319.69 170.37 319.86 171.62 320.03 172.87 320.2 174.13 320.36 175.38 320.51 176.63 320.66 177.89 320.81 179.14 320.95 180.39 321.09 181.65 321.22 182.9 321.35" stroke="#1a1ab8" stroke-width="1.7"/>
</g>
<rect x="124.4" y="334.66" width="52.2" height="36.74" fill="#fff" stroke="#767676" stroke-width="0.9"/>
<path d="M124.4 367.73h1.8M176.6 367.73h-1.8M124.4 360.38h1.8M176.6 360.38h-1.8M124.4 353.03h1.8M176.6 353.03h-1.8M124.4 345.68h1.8M176.6 345.68h-1.8M124.4 338.33h1.8M176.6 338.33h-1.8" stroke="#767676" stroke-width="0.8" fill="none"/>
<path d="M124.4 353.03H176.6" stroke="#b0b0b0" stroke-width="0.7" stroke-dasharray="0.8 1.6" fill="none"/>
<text x="118.1" y="369.83" class="itk">-4</text>
<text x="118.1" y="362.48" class="itk">-2</text>
<text x="118.1" y="355.13" class="itk">0</text>
<text x="118.1" y="347.78" class="itk">2</text>
<text x="118.1" y="340.43" class="itk">4</text>
<text x="124.7" y="332.06" class="ix">× 10<tspan dy="-1.3" font-size="3.6">−5</tspan></text>
<rect x="135.5" y="353.03" width="3.9" height="6.98" fill="#138013"/>
<text x="135.5" y="350.53" class="il">I<tspan dy="1.8" font-size="6">12</tspan></text>
<rect x="161.6" y="345.68" width="3.9" height="7.35" fill="#d41414"/>
<text x="161.6" y="362.03" class="il">I<tspan dy="1.8" font-size="6">21</tspan></text>
<path d="M49.8 351.5 Q64.65 344.9 79.5 352.1" stroke="#1a1a1a" stroke-width="1.35" fill="none" marker-end="url(#ah)"/>
<path d="M49.8 359.5 Q65.05 365.5 80.3 359.5" stroke="#1a1a1a" stroke-width="1.15" fill="none" stroke-dasharray="3 2.6"/>
<circle cx="45.8" cy="355.5" r="5.3" fill="#b8b8b8" stroke="#484848" stroke-width="1"/>
<text x="45.8" y="358" class="nn">1</text>
<circle cx="84.3" cy="355.5" r="5.3" fill="#b8b8b8" stroke="#484848" stroke-width="1"/>
<text x="84.3" y="358" class="nn">2</text>
<text x="26.9" y="267.5" class="pl">G</text>
<text class="ttl"><tspan x="42" y="268.5" font-style="italic">A</tspan><tspan x="50.44" y="272.5" class="ts2">+</tspan><tspan x="64.83" y="268.5" class="rel">=</tspan><tspan x="72.27" y="268.5" font-style="italic">A</tspan><tspan x="80.51" y="271.3" class="ts2">−</tspan><tspan x="88.25" y="268.5">,</tspan><tspan x="91.33" y="268.5" class="tau">τ</tspan><tspan x="98.18" y="272.5" class="ts2">+</tspan><tspan x="115.26" y="268.5" class="rel">=</tspan><tspan x="122.7" y="268.5" class="tau">τ</tspan><tspan x="128.75" y="271.3" class="ts2">−</tspan><tspan x="136" y="268.5">,</tspan><tspan x="139.77" y="268.5" class="tau">τ</tspan><tspan x="145.53" y="270.8" class="ts">d</tspan><tspan x="158.23" y="268.5" class="rel">=</tspan><tspan x="164.98" y="268.5" class="tau">τ</tspan><tspan x="171.43" y="270.8" class="ts">a</tspan></text>
<text x="27.1" y="370.45" class="tk" text-anchor="end">-8</text>
<text x="27.1" y="349.75" class="tk" text-anchor="end">-4</text>
<text x="27.1" y="329.05" class="tk" text-anchor="end">0</text>
<text x="27.1" y="308.35" class="tk" text-anchor="end">4</text>
<text x="27.1" y="287.65" class="tk" text-anchor="end">8</text>
<text x="32.5" y="390.2" class="tk" text-anchor="middle">-40</text>
<text x="70.1" y="390.2" class="tk" text-anchor="middle">-20</text>
<text x="107.7" y="390.2" class="tk" text-anchor="middle">0</text>
<text x="145.3" y="390.2" class="tk" text-anchor="middle">20</text>
<text x="182.9" y="390.2" class="tk" text-anchor="middle">40</text>
<text x="108.2" y="406.4" class="xl" text-anchor="middle" textLength="90.4" lengthAdjust="spacingAndGlyphs">Δ<tspan font-style="italic">t</tspan> = <tspan font-style="italic">t</tspan><tspan font-size="9" dy="3">post</tspan><tspan dy="-3"> - </tspan><tspan font-style="italic">t</tspan><tspan font-size="9" dy="3">pre</tspan><tspan dy="-3"> (ms)</tspan></text>
<text transform="translate(12.0 322.05) rotate(-90)" class="yl" text-anchor="middle">W(Δ<tspan font-style="italic">t</tspan>) or <tspan font-style="italic">ρ</tspan><tspan font-size="8" font-style="italic" dy="2">ij</tspan><tspan dy="-2">(Δ</tspan><tspan font-style="italic">t</tspan>) × 10<tspan font-size="8" dy="-4.5">−3</tspan></text>
</g>
<g>
<rect x="196.4" y="273.8" width="152.8" height="103.5" fill="none" stroke="#767676" stroke-width="1.1"/>
<path d="M234.6 377.3v-2.6M234.6 273.8v2.6M272.8 377.3v-2.6M272.8 273.8v2.6M311 377.3v-2.6M311 273.8v2.6M196.4 366.95h2.6M349.2 366.95h-2.6M196.4 346.25h2.6M349.2 346.25h-2.6M196.4 325.55h2.6M349.2 325.55h-2.6M196.4 304.85h2.6M349.2 304.85h-2.6M196.4 284.15h2.6M349.2 284.15h-2.6" stroke="#767676" stroke-width="1" fill="none"/>
<path d="M196.4 325.55H349.2" stroke="#c4c4c4" stroke-width="0.8" stroke-dasharray="1 2" fill="none"/>
<clipPath id="cp7"><rect x="196.4" y="273.8" width="152.8" height="103.5"/></clipPath>
<g clip-path="url(#cp7)" fill="none" stroke-linejoin="round">
<path d="M196.4 325.55 260.58 325.55 261.19 325.55 261.8 325.55 262.41 325.55 263.02 325.54 263.63 325.54 264.24 325.53 264.85 325.53 265.47 325.52 266.08 325.5 266.69 325.48 267.3 325.45 267.91 325.41 268.52 325.35 269.13 325.28 269.74 325.18 270.36 325.06 270.97 324.9 271.58 324.69 272.19 324.43 272.8 324.11 273.41 323.71 274.02 323.22 274.63 322.63 275.24 321.93 275.86 321.1 276.47 320.15 277.08 319.05 277.69 317.8 278.3 316.41 278.91 314.88 279.52 313.22 280.13 311.43 280.75 309.55 281.36 307.61 281.97 305.62 282.58 303.63 283.19 301.69 283.8 299.83 284.41 298.1 285.02 296.55 285.64 295.22 286.25 294.13 286.86 293.34 287.47 292.85 288.08 292.69 288.69 292.85 289.3 293.34 289.91 294.13 290.52 295.22 291.14 296.55 291.75 298.1 292.36 299.83 292.97 301.69 293.58 303.63 294.19 305.62 294.8 307.61 295.41 309.55 296.03 311.43 296.64 313.22 297.25 314.88 297.86 316.41 298.47 317.8 299.08 319.05 299.69 320.15 300.3 321.1 300.92 321.93 301.53 322.63 302.14 323.22 302.75 323.71 303.36 324.11 303.97 324.43 304.58 324.69 305.19 324.9 305.8 325.06 306.42 325.18 307.03 325.28 307.64 325.35 308.25 325.41 308.86 325.45 309.47 325.48 310.08 325.5 310.69 325.52 311.31 325.53 311.92 325.53 312.53 325.54 313.14 325.54 313.75 325.55 314.36 325.55 314.97 325.55 315.58 325.55 349.2 325.55" stroke="#d41414" stroke-width="1.8"/>
<path d="M196.4 325.55 252.94 325.55 253.55 325.55 254.16 325.55 254.77 325.55 255.38 325.54 255.99 325.54 256.6 325.53 257.21 325.53 257.83 325.52 258.44 325.5 259.05 325.48 259.66 325.45 260.27 325.41 260.88 325.35 261.49 325.28 262.1 325.18 262.72 325.06 263.33 324.9 263.94 324.69 264.55 324.43 265.16 324.11 265.77 323.71 266.38 323.22 266.99 322.63 267.6 321.93 268.22 321.1 268.83 320.15 269.44 319.05 270.05 317.8 270.66 316.41 271.27 314.88 271.88 313.22 272.49 311.43 273.11 309.55 273.72 307.61 274.33 305.62 274.94 303.63 275.55 301.69 276.16 299.83 276.77 298.1 277.38 296.55 278 295.22 278.61 294.13 279.22 293.34 279.83 292.85 280.44 292.69 281.05 292.85 281.66 293.34 282.27 294.13 282.88 295.22 283.5 296.55 284.11 298.1 284.72 299.83 285.33 301.69 285.94 303.63 286.55 305.62 287.16 307.61 287.77 309.55 288.39 311.43 289 313.22 289.61 314.88 290.22 316.41 290.83 317.8 291.44 319.05 292.05 320.15 292.66 321.1 293.28 321.93 293.89 322.63 294.5 323.22 295.11 323.71 295.72 324.11 296.33 324.43 296.94 324.69 297.55 324.9 298.16 325.06 298.78 325.18 299.39 325.28 300 325.35 300.61 325.41 301.22 325.45 301.83 325.48 302.44 325.5 303.05 325.52 303.67 325.53 304.28 325.53 304.89 325.54 305.5 325.54 306.11 325.55 306.72 325.55 307.33 325.55 307.94 325.55 349.2 325.55" stroke="#138013" stroke-width="1.9" stroke-dasharray="1.5 1.1"/>
<path d="M196.4 325.55H263.22M305.3 325.55H349.2" stroke="#3e4a14" stroke-width="1.8"/>
<path d="M196.4 329.75 197.67 329.88 198.95 330.01 200.22 330.15 201.49 330.29 202.77 330.44 204.04 330.59 205.31 330.74 206.59 330.9 207.86 331.07 209.13 331.24 210.41 331.41 211.68 331.59 212.95 331.78 214.23 331.97 215.5 332.17 216.77 332.37 218.05 332.58 219.32 332.8 220.59 333.02 221.87 333.25 223.14 333.49 224.41 333.73 225.69 333.98 226.96 334.24 228.23 334.51 229.51 334.78 230.78 335.07 232.05 335.36 233.33 335.66 234.6 335.97 235.87 336.3 237.15 336.63 238.42 336.97 239.69 337.32 240.97 337.68 242.24 338.05 243.51 338.44 244.79 338.83 246.06 339.24 247.33 339.66 248.61 340.1 249.88 340.55 251.15 341.01 252.43 341.48 253.7 341.97 254.97 342.48 256.25 343 257.52 343.54 258.79 344.09 260.07 344.66 261.34 345.25 262.61 345.85 263.89 346.48 265.16 347.12 266.43 347.79 267.71 348.47 268.98 349.18 270.25 349.9 271.53 350.65 272.8 351.42 272.8 299.68 274.07 300.45 275.35 301.2 276.62 301.92 277.89 302.63 279.17 303.31 280.44 303.98 281.71 304.62 282.99 305.25 284.26 305.85 285.53 306.44 286.81 307.01 288.08 307.56 289.35 308.1 290.63 308.62 291.9 309.13 293.17 309.62 294.45 310.09 295.72 310.55 296.99 311 298.27 311.44 299.54 311.86 300.81 312.27 302.09 312.66 303.36 313.05 304.63 313.42 305.91 313.78 307.18 314.13 308.45 314.47 309.73 314.8 311 315.13 312.27 315.44 313.55 315.74 314.82 316.03 316.09 316.32 317.37 316.59 318.64 316.86 319.91 317.12 321.19 317.37 322.46 317.61 323.73 317.85 325.01 318.08 326.28 318.3 327.55 318.52 328.83 318.73 330.1 318.93 331.37 319.13 332.65 319.32 333.92 319.51 335.19 319.69 336.47 319.86 337.74 320.03 339.01 320.2 340.29 320.36 341.56 320.51 342.83 320.66 344.11 320.81 345.38 320.95 346.65 321.09 347.93 321.22 349.2 321.35" stroke="#1a1ab8" stroke-width="1.7"/>
</g>
<rect x="290.7" y="334.66" width="52.2" height="36.74" fill="#fff" stroke="#767676" stroke-width="0.9"/>
<path d="M290.7 367.73h1.8M342.9 367.73h-1.8M290.7 360.38h1.8M342.9 360.38h-1.8M290.7 353.03h1.8M342.9 353.03h-1.8M290.7 345.68h1.8M342.9 345.68h-1.8M290.7 338.33h1.8M342.9 338.33h-1.8" stroke="#767676" stroke-width="0.8" fill="none"/>
<path d="M290.7 353.03H342.9" stroke="#b0b0b0" stroke-width="0.7" stroke-dasharray="0.8 1.6" fill="none"/>
<text x="284.4" y="369.83" class="itk">-4</text>
<text x="284.4" y="362.48" class="itk">-2</text>
<text x="284.4" y="355.13" class="itk">0</text>
<text x="284.4" y="347.78" class="itk">2</text>
<text x="284.4" y="340.43" class="itk">4</text>
<text x="291" y="332.06" class="ix">× 10<tspan dy="-1.3" font-size="3.6">−5</tspan></text>
<rect x="301.8" y="337.96" width="3.9" height="15.06" fill="#138013"/>
<text x="301.8" y="362.03" class="il">I<tspan dy="1.8" font-size="6">12</tspan></text>
<rect x="327.9" y="335.03" width="3.9" height="18" fill="#d41414"/>
<text x="327.9" y="362.03" class="il">I<tspan dy="1.8" font-size="6">21</tspan></text>
<path d="M213.7 351.5 Q228.55 344.9 243.4 352.1" stroke="#1a1a1a" stroke-width="1.35" fill="none" marker-end="url(#ah)"/>
<path d="M244.2 359.5 Q229.35 365.5 214.5 359.1" stroke="#1a1a1a" stroke-width="1.35" fill="none" marker-end="url(#ah)"/>
<circle cx="209.7" cy="355.5" r="5.3" fill="#b8b8b8" stroke="#484848" stroke-width="1"/>
<text x="209.7" y="358" class="nn">1</text>
<circle cx="248.2" cy="355.5" r="5.3" fill="#b8b8b8" stroke="#484848" stroke-width="1"/>
<text x="248.2" y="358" class="nn">2</text>
<text x="190.8" y="267.5" class="pl">H</text>
<text class="ttl"><tspan x="206.4" y="268.5" font-style="italic">A</tspan><tspan x="214.78" y="272.5" class="ts2">+</tspan><tspan x="229.1" y="268.5" class="rel">=</tspan><tspan x="236.49" y="268.5" font-style="italic">A</tspan><tspan x="244.68" y="271.3" class="ts2">−</tspan><tspan x="252.38" y="268.5">,</tspan><tspan x="255.43" y="268.5" class="tau">τ</tspan><tspan x="262.24" y="272.5" class="ts2">+</tspan><tspan x="279.22" y="268.5" class="rel">=</tspan><tspan x="286.61" y="268.5" class="tau">τ</tspan><tspan x="292.63" y="271.3" class="ts2">−</tspan><tspan x="299.83" y="268.5">,</tspan><tspan x="303.58" y="268.5" class="tau">τ</tspan><tspan x="309.31" y="270.8" class="ts">d</tspan><tspan x="321.94" y="268.5" class="rel">&gt;</tspan><tspan x="328.64" y="268.5" class="tau">τ</tspan><tspan x="335.06" y="270.8" class="ts">a</tspan></text>
<text x="196.4" y="390.2" class="tk" text-anchor="middle">-40</text>
<text x="234.6" y="390.2" class="tk" text-anchor="middle">-20</text>
<text x="272.8" y="390.2" class="tk" text-anchor="middle">0</text>
<text x="311" y="390.2" class="tk" text-anchor="middle">20</text>
<text x="349.2" y="390.2" class="tk" text-anchor="middle">40</text>
<text x="273.3" y="406.4" class="xl" text-anchor="middle" textLength="90.4" lengthAdjust="spacingAndGlyphs">Δ<tspan font-style="italic">t</tspan> = <tspan font-style="italic">t</tspan><tspan font-size="9" dy="3">post</tspan><tspan dy="-3"> - </tspan><tspan font-style="italic">t</tspan><tspan font-size="9" dy="3">pre</tspan><tspan dy="-3"> (ms)</tspan></text>
</g>
<g>
<rect x="362.4" y="273.8" width="153.1" height="103.5" fill="none" stroke="#767676" stroke-width="1.1"/>
<path d="M400.67 377.3v-2.6M400.67 273.8v2.6M438.95 377.3v-2.6M438.95 273.8v2.6M477.23 377.3v-2.6M477.23 273.8v2.6M362.4 366.95h2.6M515.5 366.95h-2.6M362.4 346.25h2.6M515.5 346.25h-2.6M362.4 325.55h2.6M515.5 325.55h-2.6M362.4 304.85h2.6M515.5 304.85h-2.6M362.4 284.15h2.6M515.5 284.15h-2.6" stroke="#767676" stroke-width="1" fill="none"/>
<path d="M362.4 325.55H515.5" stroke="#c4c4c4" stroke-width="0.8" stroke-dasharray="1 2" fill="none"/>
<clipPath id="cp8"><rect x="362.4" y="273.8" width="153.1" height="103.5"/></clipPath>
<g clip-path="url(#cp8)" fill="none" stroke-linejoin="round">
<path d="M362.4 325.55 403.74 325.55 404.35 325.55 404.96 325.55 405.57 325.55 406.19 325.54 406.8 325.54 407.41 325.53 408.02 325.53 408.64 325.52 409.25 325.5 409.86 325.48 410.47 325.45 411.09 325.41 411.7 325.35 412.31 325.28 412.92 325.18 413.54 325.06 414.15 324.9 414.76 324.69 415.37 324.43 415.99 324.11 416.6 323.71 417.21 323.22 417.82 322.63 418.43 321.93 419.05 321.1 419.66 320.15 420.27 319.05 420.88 317.8 421.5 316.41 422.11 314.88 422.72 313.22 423.33 311.43 423.95 309.55 424.56 307.61 425.17 305.62 425.78 303.63 426.4 301.69 427.01 299.83 427.62 298.1 428.23 296.55 428.85 295.22 429.46 294.13 430.07 293.34 430.68 292.85 431.29 292.69 431.91 292.85 432.52 293.34 433.13 294.13 433.74 295.22 434.36 296.55 434.97 298.1 435.58 299.83 436.19 301.69 436.81 303.63 437.42 305.62 438.03 307.61 438.64 309.55 439.26 311.43 439.87 313.22 440.48 314.88 441.09 316.41 441.71 317.8 442.32 319.05 442.93 320.15 443.54 321.1 444.16 321.93 444.77 322.63 445.38 323.22 445.99 323.71 446.61 324.11 447.22 324.43 447.83 324.69 448.44 324.9 449.05 325.06 449.67 325.18 450.28 325.28 450.89 325.35 451.5 325.41 452.12 325.45 452.73 325.48 453.34 325.5 453.95 325.52 454.57 325.53 455.18 325.53 455.79 325.54 456.4 325.54 457.02 325.55 457.63 325.55 458.24 325.55 458.85 325.55 515.5 325.55" stroke="#d41414" stroke-width="1.8"/>
<path d="M362.4 325.55 396.08 325.55 396.69 325.55 397.31 325.55 397.92 325.55 398.53 325.54 399.14 325.54 399.76 325.53 400.37 325.53 400.98 325.52 401.59 325.5 402.21 325.48 402.82 325.45 403.43 325.41 404.04 325.35 404.66 325.28 405.27 325.18 405.88 325.06 406.49 324.9 407.11 324.69 407.72 324.43 408.33 324.11 408.94 323.71 409.55 323.22 410.17 322.63 410.78 321.93 411.39 321.1 412 320.15 412.62 319.05 413.23 317.8 413.84 316.41 414.45 314.88 415.07 313.22 415.68 311.43 416.29 309.55 416.9 307.61 417.52 305.62 418.13 303.63 418.74 301.69 419.35 299.83 419.97 298.1 420.58 296.55 421.19 295.22 421.8 294.13 422.42 293.34 423.03 292.85 423.64 292.69 424.25 292.85 424.86 293.34 425.48 294.13 426.09 295.22 426.7 296.55 427.31 298.1 427.93 299.83 428.54 301.69 429.15 303.63 429.76 305.62 430.38 307.61 430.99 309.55 431.6 311.43 432.21 313.22 432.83 314.88 433.44 316.41 434.05 317.8 434.66 319.05 435.28 320.15 435.89 321.1 436.5 321.93 437.11 322.63 437.73 323.22 438.34 323.71 438.95 324.11 439.56 324.43 440.17 324.69 440.79 324.9 441.4 325.06 442.01 325.18 442.62 325.28 443.24 325.35 443.85 325.41 444.46 325.45 445.07 325.48 445.69 325.5 446.3 325.52 446.91 325.53 447.52 325.53 448.14 325.54 448.75 325.54 449.36 325.55 449.97 325.55 450.59 325.55 451.2 325.55 515.5 325.55" stroke="#138013" stroke-width="1.9" stroke-dasharray="1.5 1.1"/>
<path d="M362.4 325.55H406.39M448.55 325.55H515.5" stroke="#3e4a14" stroke-width="1.8"/>
<path d="M362.4 329.75 363.68 329.88 364.95 330.01 366.23 330.15 367.5 330.29 368.78 330.44 370.05 330.59 371.33 330.74 372.61 330.9 373.88 331.07 375.16 331.24 376.43 331.41 377.71 331.59 378.99 331.78 380.26 331.97 381.54 332.17 382.81 332.37 384.09 332.58 385.37 332.8 386.64 333.02 387.92 333.25 389.19 333.49 390.47 333.73 391.74 333.98 393.02 334.24 394.3 334.51 395.57 334.78 396.85 335.07 398.12 335.36 399.4 335.66 400.67 335.97 401.95 336.3 403.23 336.63 404.5 336.97 405.78 337.32 407.05 337.68 408.33 338.05 409.61 338.44 410.88 338.83 412.16 339.24 413.43 339.66 414.71 340.1 415.99 340.55 417.26 341.01 418.54 341.48 419.81 341.97 421.09 342.48 422.36 343 423.64 343.54 424.92 344.09 426.19 344.66 427.47 345.25 428.74 345.85 430.02 346.48 431.29 347.12 432.57 347.79 433.85 348.47 435.12 349.18 436.4 349.9 437.67 350.65 438.95 351.42 438.95 299.68 440.23 300.45 441.5 301.2 442.78 301.92 444.05 302.63 445.33 303.31 446.61 303.98 447.88 304.62 449.16 305.25 450.43 305.85 451.71 306.44 452.98 307.01 454.26 307.56 455.54 308.1 456.81 308.62 458.09 309.13 459.36 309.62 460.64 310.09 461.91 310.55 463.19 311 464.47 311.44 465.74 311.86 467.02 312.27 468.29 312.66 469.57 313.05 470.85 313.42 472.12 313.78 473.4 314.13 474.67 314.47 475.95 314.8 477.23 315.13 478.5 315.44 479.78 315.74 481.05 316.03 482.33 316.32 483.6 316.59 484.88 316.86 486.16 317.12 487.43 317.37 488.71 317.61 489.98 317.85 491.26 318.08 492.53 318.3 493.81 318.52 495.09 318.73 496.36 318.93 497.64 319.13 498.91 319.32 500.19 319.51 501.47 319.69 502.74 319.86 504.02 320.03 505.29 320.2 506.57 320.36 507.85 320.51 509.12 320.66 510.4 320.81 511.67 320.95 512.95 321.09 514.22 321.22 515.5 321.35" stroke="#1a1ab8" stroke-width="1.7"/>
</g>
<rect x="457" y="334.66" width="52.2" height="36.74" fill="#fff" stroke="#767676" stroke-width="0.9"/>
<path d="M457 367.73h1.8M509.2 367.73h-1.8M457 360.38h1.8M509.2 360.38h-1.8M457 353.03h1.8M509.2 353.03h-1.8M457 345.68h1.8M509.2 345.68h-1.8M457 338.33h1.8M509.2 338.33h-1.8" stroke="#767676" stroke-width="0.8" fill="none"/>
<path d="M457 353.03H509.2" stroke="#b0b0b0" stroke-width="0.7" stroke-dasharray="0.8 1.6" fill="none"/>
<text x="450.7" y="369.83" class="itk">-4</text>
<text x="450.7" y="362.48" class="itk">-2</text>
<text x="450.7" y="355.13" class="itk">0</text>
<text x="450.7" y="347.78" class="itk">2</text>
<text x="450.7" y="340.43" class="itk">4</text>
<text x="457.3" y="332.06" class="ix">× 10<tspan dy="-1.3" font-size="3.6">−5</tspan></text>
<rect x="468.1" y="353.03" width="3.9" height="17.27" fill="#138013"/>
<text x="468.1" y="350.53" class="il">I<tspan dy="1.8" font-size="6">12</tspan></text>
<rect x="494.2" y="353.03" width="3.9" height="15.06" fill="#d41414"/>
<text x="494.2" y="350.53" class="il">I<tspan dy="1.8" font-size="6">21</tspan></text>
<path d="M379.7 351.5 Q394.55 344.9 409.4 352.1" stroke="#1a1a1a" stroke-width="1.15" fill="none" stroke-dasharray="3 2.6"/>
<path d="M379.7 359.5 Q394.95 365.5 410.2 359.5" stroke="#1a1a1a" stroke-width="1.15" fill="none" stroke-dasharray="3 2.6"/>
<circle cx="375.7" cy="355.5" r="5.3" fill="#b8b8b8" stroke="#484848" stroke-width="1"/>
<text x="375.7" y="358" class="nn">1</text>
<circle cx="414.2" cy="355.5" r="5.3" fill="#b8b8b8" stroke="#484848" stroke-width="1"/>
<text x="414.2" y="358" class="nn">2</text>
<text x="356.8" y="267.5" class="pl">I</text>
<text class="ttl"><tspan x="370.3" y="268.5" font-style="italic">A</tspan><tspan x="378.73" y="272.5" class="ts2">+</tspan><tspan x="393.11" y="268.5" class="rel">=</tspan><tspan x="400.55" y="268.5" font-style="italic">A</tspan><tspan x="408.78" y="271.3" class="ts2">−</tspan><tspan x="416.52" y="268.5">,</tspan><tspan x="419.59" y="268.5" class="tau">τ</tspan><tspan x="426.44" y="272.5" class="ts2">+</tspan><tspan x="443.5" y="268.5" class="rel">=</tspan><tspan x="450.93" y="268.5" class="tau">τ</tspan><tspan x="456.99" y="271.3" class="ts2">−</tspan><tspan x="464.23" y="268.5">,</tspan><tspan x="467.99" y="268.5" class="tau">τ</tspan><tspan x="473.75" y="270.8" class="ts">d</tspan><tspan x="486.45" y="268.5" class="rel">&lt;</tspan><tspan x="493.19" y="268.5" class="tau">τ</tspan><tspan x="499.64" y="270.8" class="ts">a</tspan></text>
<text x="362.4" y="390.2" class="tk" text-anchor="middle">-40</text>
<text x="400.67" y="390.2" class="tk" text-anchor="middle">-20</text>
<text x="438.95" y="390.2" class="tk" text-anchor="middle">0</text>
<text x="477.23" y="390.2" class="tk" text-anchor="middle">20</text>
<text x="515.5" y="390.2" class="tk" text-anchor="middle">40</text>
<text x="439.45" y="406.4" class="xl" text-anchor="middle" textLength="90.4" lengthAdjust="spacingAndGlyphs">Δ<tspan font-style="italic">t</tspan> = <tspan font-style="italic">t</tspan><tspan font-size="9" dy="3">post</tspan><tspan dy="-3"> - </tspan><tspan font-style="italic">t</tspan><tspan font-size="9" dy="3">pre</tspan><tspan dy="-3"> (ms)</tspan></text>
</g>
</g></svg></body></html>
